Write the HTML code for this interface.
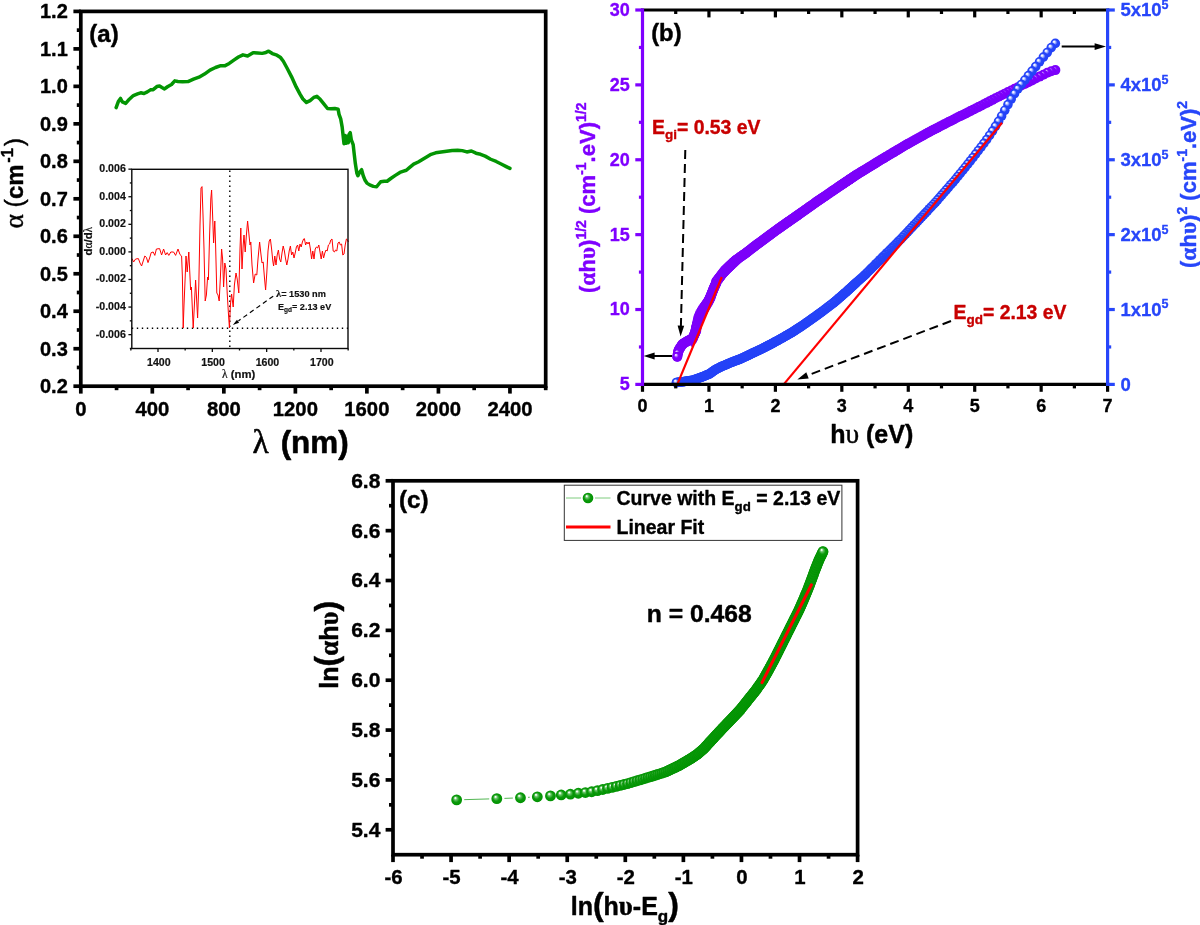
<!DOCTYPE html>
<html lang="en"><head><meta charset="utf-8"><title>Absorption coefficient, Tauc plots and ln-ln fit</title>
<style>html,body{margin:0;padding:0;background:#fff;}svg{display:block;}text{white-space:pre;}</style></head><body>
<svg width="1200" height="925" viewBox="0 0 1200 925">
<rect x="0" y="0" width="1200" height="925" fill="#ffffff"/>
<g id="panel-a">
<polyline points="116.13,107.63 118.33,101.58 120.53,98.47 122.37,101.95 125.67,103.42 129.33,99.2 133.37,95.53 137.58,93.88 140.7,92.78 144,93.52 147.3,91.87 150.42,89.85 153.17,89.67 156.83,86.55 159.58,86 161.97,87.47 164.53,88.93 167.47,86.73 171.5,84.53 174.8,80.87 177.92,81.42 182.5,81.78 188,81.6 193.5,79.22 199,77.2 204.5,74.08 210,70.05 215.5,67.48 220.08,65.83 224.67,65.83 229.25,63.45 233.83,60.15 238.42,57.03 243,54.83 247.58,55.93 253.08,52.63 257.67,53 262.25,53.37 265.92,52.45 268.67,51.17 272.33,53.55 276.92,55.2 280.58,57.58 283.33,61.25 287,68.03 291.58,76.83 296.17,86.92 300,94.17 302.75,98.75 306.42,102.42 310.08,100.58 313.75,97.47 316.87,96.37 320.17,99.3 323.83,103.88 327.5,108.47 331.17,108.83 334.83,108.47 338.13,109.2 339.05,114.33 340.7,118.92 342.17,127.17 343.08,135.42 344,143.67 345.1,135.42 346.2,143.3 347.3,136.33 348.22,142.75 349.13,134.5 350.23,132.67 351.33,140 353.17,144.58 354.08,152.83 355.37,163.83 356.83,173 357.93,175.75 359.77,172.08 361.6,169.7 363.25,175.75 365.08,180.33 366.92,183.08 369.67,184.92 373.33,186.38 376.63,186.75 378.83,184 380.67,181.8 384.33,181.25 387.08,181.25 390.75,178.5 395.33,175.38 399.92,172.45 403.58,171.17 406.33,170.25 410,167.13 413.67,164.2 418.25,162 422.83,159.25 427.42,156.5 431.08,154.3 435.67,152.83 441.17,151.92 446.67,151.18 452.17,150.45 457.67,150.27 462.25,150.63 466.83,151.92 471.42,151 476,153.2 480.58,154.3 485.17,156.13 490.67,159.25 496.17,161.45 501.67,164.2 506.25,166.58 509.92,168.42" fill="none" stroke="#039503" stroke-width="3.5" stroke-linejoin="round" stroke-linecap="round"/>
<line x1="229.8" y1="169.3" x2="229.8" y2="348.5" stroke="#000" stroke-width="1.4" stroke-dasharray="1.4 3.6" stroke-dashoffset="-1.2"/>
<line x1="131.8" y1="328.2" x2="348" y2="328.2" stroke="#000" stroke-width="1.4" stroke-dasharray="1.4 3.6"/>
<polyline points="132,258.6 133.6,262 135.6,259 138.4,258.6 140,263 141.6,266 143.2,261 144.8,256 146.4,257.4 148,262.6 149.6,258 151.2,252.6 153.2,252 154.8,255.4 156.4,249 159.6,248.6 161.6,255 163.6,249 165.6,255 167.2,252.6 168.8,255.4 170.8,252 173.6,252 175.6,255.4 178,249 180,254.6 181.6,256 182.4,277 183.2,328 184,305 185.2,277 186,256 187.2,272 188.8,252 190,277 190.6,290 191.4,287 193.2,328 194.4,305 195.6,280 197.6,318 198.8,285 200,225 201,188 202,186.6 203,215 204,249 205.2,301 206.4,295 207.6,277 208.4,280 209.6,235 210.8,199 211.6,190 212.6,215 213.6,243 214.8,221 215.6,245 216.8,293 218,295 219.2,301 220.4,277 221.6,249 222.6,259 223.6,287 224.8,263 226,269 227.2,293 228.4,313 229.4,328 230.4,305 231.6,294 233.2,307 234.4,285 236,273 237.2,279 238.8,293 240,249 240.8,228 242,269 243.2,245 244,235 245.2,252 246.4,235 247.6,221 248.8,233 250,245 250.8,242 252,265 253.6,283 255.2,274 256.8,275 258,259 259.6,242 260.8,253 262,263 263.2,262 264.4,277 265.6,290 266.8,273 268,251 269.2,241 270.4,239 271.6,249 272.8,261 273.6,266 274.8,256 276,265 277.2,255 278.4,250 279.6,259 280.8,262 282,253 283.2,246 284.4,251 285.6,259 286.8,265 288,259 289.2,251 290.4,246 291.6,255 292.8,252 294,258 295.2,253 296.4,247 297.6,245 298.8,251 300,244 301.2,247 302.4,242 303.6,239 304.4,238.6 305.6,245 306.8,242 308,244 309.2,242 310.4,249 311.6,259 312.8,251 314,259 315.2,249 316.4,247 317.6,248 318.8,245 320,252 321.2,259 322.4,251 323.6,258 324.8,253 326,250 327.2,251 328.4,245 329.6,244 330.8,240 332,239 333.2,251 334.4,252 335.6,250 336.8,251 338,243 339.2,242 340.4,245 341.6,244 342.8,255 344,254 345.2,245 346.4,239 347.6,240 348.4,242" fill="none" stroke="#ff0000" stroke-width="1" stroke-linejoin="round"/>
<rect x="131.8" y="169.3" width="216.2" height="179.2" fill="none" stroke="#0a0a0a" stroke-width="1.4"/>
<line x1="158" y1="348.5" x2="158" y2="351.9" stroke="#0a0a0a" stroke-width="1.3" />
<text x="158.8" y="365.6" font-family='"Liberation Sans", Arial, Helvetica, sans-serif' font-size="10.6" font-weight="bold" fill="#111" text-anchor="middle"  stroke="#111" stroke-width="0.19" stroke-linejoin="round">1400</text>
<line x1="212.33" y1="348.5" x2="212.33" y2="351.9" stroke="#0a0a0a" stroke-width="1.3" />
<text x="213.13" y="365.6" font-family='"Liberation Sans", Arial, Helvetica, sans-serif' font-size="10.6" font-weight="bold" fill="#111" text-anchor="middle"  stroke="#111" stroke-width="0.19" stroke-linejoin="round">1500</text>
<line x1="266.66" y1="348.5" x2="266.66" y2="351.9" stroke="#0a0a0a" stroke-width="1.3" />
<text x="267.46" y="365.6" font-family='"Liberation Sans", Arial, Helvetica, sans-serif' font-size="10.6" font-weight="bold" fill="#111" text-anchor="middle"  stroke="#111" stroke-width="0.19" stroke-linejoin="round">1600</text>
<line x1="320.99" y1="348.5" x2="320.99" y2="351.9" stroke="#0a0a0a" stroke-width="1.3" />
<text x="321.79" y="365.6" font-family='"Liberation Sans", Arial, Helvetica, sans-serif' font-size="10.6" font-weight="bold" fill="#111" text-anchor="middle"  stroke="#111" stroke-width="0.19" stroke-linejoin="round">1700</text>
<line x1="130.84" y1="348.5" x2="130.84" y2="350.5" stroke="#0a0a0a" stroke-width="1.3" />
<line x1="185.16" y1="348.5" x2="185.16" y2="350.5" stroke="#0a0a0a" stroke-width="1.3" />
<line x1="239.5" y1="348.5" x2="239.5" y2="350.5" stroke="#0a0a0a" stroke-width="1.3" />
<line x1="293.82" y1="348.5" x2="293.82" y2="350.5" stroke="#0a0a0a" stroke-width="1.3" />
<line x1="348.15" y1="348.5" x2="348.15" y2="350.5" stroke="#0a0a0a" stroke-width="1.3" />
<line x1="128.4" y1="169.16" x2="131.8" y2="169.16" stroke="#0a0a0a" stroke-width="1.3" />
<text x="125.8" y="172.06" font-family='"Liberation Sans", Arial, Helvetica, sans-serif' font-size="10.6" font-weight="bold" fill="#111" text-anchor="end"  stroke="#111" stroke-width="0.19" stroke-linejoin="round">0.006</text>
<line x1="128.4" y1="196.74" x2="131.8" y2="196.74" stroke="#0a0a0a" stroke-width="1.3" />
<text x="125.8" y="199.64" font-family='"Liberation Sans", Arial, Helvetica, sans-serif' font-size="10.6" font-weight="bold" fill="#111" text-anchor="end"  stroke="#111" stroke-width="0.19" stroke-linejoin="round">0.004</text>
<line x1="128.4" y1="224.32" x2="131.8" y2="224.32" stroke="#0a0a0a" stroke-width="1.3" />
<text x="125.8" y="227.22" font-family='"Liberation Sans", Arial, Helvetica, sans-serif' font-size="10.6" font-weight="bold" fill="#111" text-anchor="end"  stroke="#111" stroke-width="0.19" stroke-linejoin="round">0.002</text>
<line x1="128.4" y1="251.9" x2="131.8" y2="251.9" stroke="#0a0a0a" stroke-width="1.3" />
<text x="125.8" y="254.8" font-family='"Liberation Sans", Arial, Helvetica, sans-serif' font-size="10.6" font-weight="bold" fill="#111" text-anchor="end"  stroke="#111" stroke-width="0.19" stroke-linejoin="round">0.000</text>
<line x1="128.4" y1="279.48" x2="131.8" y2="279.48" stroke="#0a0a0a" stroke-width="1.3" />
<text x="125.8" y="282.38" font-family='"Liberation Sans", Arial, Helvetica, sans-serif' font-size="10.6" font-weight="bold" fill="#111" text-anchor="end"  stroke="#111" stroke-width="0.19" stroke-linejoin="round">-0.002</text>
<line x1="128.4" y1="307.06" x2="131.8" y2="307.06" stroke="#0a0a0a" stroke-width="1.3" />
<text x="125.8" y="309.96" font-family='"Liberation Sans", Arial, Helvetica, sans-serif' font-size="10.6" font-weight="bold" fill="#111" text-anchor="end"  stroke="#111" stroke-width="0.19" stroke-linejoin="round">-0.004</text>
<line x1="128.4" y1="334.64" x2="131.8" y2="334.64" stroke="#0a0a0a" stroke-width="1.3" />
<text x="125.8" y="337.54" font-family='"Liberation Sans", Arial, Helvetica, sans-serif' font-size="10.6" font-weight="bold" fill="#111" text-anchor="end"  stroke="#111" stroke-width="0.19" stroke-linejoin="round">-0.006</text>
<line x1="129.8" y1="182.95" x2="131.8" y2="182.95" stroke="#0a0a0a" stroke-width="1.3" />
<line x1="129.8" y1="210.53" x2="131.8" y2="210.53" stroke="#0a0a0a" stroke-width="1.3" />
<line x1="129.8" y1="238.11" x2="131.8" y2="238.11" stroke="#0a0a0a" stroke-width="1.3" />
<line x1="129.8" y1="265.69" x2="131.8" y2="265.69" stroke="#0a0a0a" stroke-width="1.3" />
<line x1="129.8" y1="293.27" x2="131.8" y2="293.27" stroke="#0a0a0a" stroke-width="1.3" />
<line x1="129.8" y1="320.85" x2="131.8" y2="320.85" stroke="#0a0a0a" stroke-width="1.3" />
<line x1="129.8" y1="348.43" x2="131.8" y2="348.43" stroke="#0a0a0a" stroke-width="1.3" />
<text x="222" y="378.4" font-family='"Liberation Sans", Arial, Helvetica, sans-serif' font-size="11.3" font-weight="bold" fill="#111" stroke="#111" stroke-width="0.2" stroke-linejoin="round"><tspan font-family='"Liberation Serif", "DejaVu Serif", serif' font-weight="normal" font-size="11.5">λ</tspan> (nm)</text>
<text transform="translate(91.6,255.5) rotate(-90)" font-family='"Liberation Sans", Arial, Helvetica, sans-serif' font-size="11.4" font-weight="bold" fill="#111" stroke="#111" stroke-width="0.21" stroke-linejoin="round">d<tspan font-family='"Liberation Serif", "DejaVu Serif", serif' font-weight="normal" font-size="11.5">α</tspan>/d<tspan font-family='"Liberation Serif", "DejaVu Serif", serif' font-weight="normal" font-size="11.5">λ</tspan></text>
<line x1="273.2" y1="296.2" x2="238.4" y2="320.9" stroke="#000" stroke-width="1.2" stroke-dasharray="4.6 3.4"/>
<polygon points="232.8,324.9 237.0,319.7 239.1,322.7" fill="#000"/>
<text x="276" y="297" font-family='"Liberation Sans", Arial, Helvetica, sans-serif' font-size="9.2" font-weight="bold" fill="#111" stroke="#111" stroke-width="0.17" stroke-linejoin="round"><tspan font-family='"Liberation Serif", "DejaVu Serif", serif' font-weight="bold" font-size="10.5">λ</tspan>= 1530 nm</text>
<text x="278" y="310.2" font-family='"Liberation Sans", Arial, Helvetica, sans-serif' font-size="9.1" font-weight="bold" fill="#111" stroke="#111" stroke-width="0.16" stroke-linejoin="round">E<tspan font-size="6.5" dy="2.2">gd</tspan><tspan dy="-2.2">= 2.13 eV</tspan></text>
<rect x="80.8" y="11.4" width="464.9" height="374.8" fill="none" stroke="#000" stroke-width="3.7"/>
<line x1="80.8" y1="386.2" x2="80.8" y2="393.6" stroke="#000" stroke-width="3.7" />
<text x="80.8" y="415.6" font-family='"Liberation Sans", Arial, Helvetica, sans-serif' font-size="20.3" font-weight="bold" fill="#000" text-anchor="middle"  stroke="#000" stroke-width="0.37" stroke-linejoin="round">0</text>
<line x1="152.32" y1="386.2" x2="152.32" y2="393.6" stroke="#000" stroke-width="3.7" />
<text x="152.32" y="415.6" font-family='"Liberation Sans", Arial, Helvetica, sans-serif' font-size="20.3" font-weight="bold" fill="#000" text-anchor="middle"  stroke="#000" stroke-width="0.37" stroke-linejoin="round">400</text>
<line x1="223.85" y1="386.2" x2="223.85" y2="393.6" stroke="#000" stroke-width="3.7" />
<text x="223.85" y="415.6" font-family='"Liberation Sans", Arial, Helvetica, sans-serif' font-size="20.3" font-weight="bold" fill="#000" text-anchor="middle"  stroke="#000" stroke-width="0.37" stroke-linejoin="round">800</text>
<line x1="295.37" y1="386.2" x2="295.37" y2="393.6" stroke="#000" stroke-width="3.7" />
<text x="295.37" y="415.6" font-family='"Liberation Sans", Arial, Helvetica, sans-serif' font-size="20.3" font-weight="bold" fill="#000" text-anchor="middle"  stroke="#000" stroke-width="0.37" stroke-linejoin="round">1200</text>
<line x1="366.89" y1="386.2" x2="366.89" y2="393.6" stroke="#000" stroke-width="3.7" />
<text x="366.89" y="415.6" font-family='"Liberation Sans", Arial, Helvetica, sans-serif' font-size="20.3" font-weight="bold" fill="#000" text-anchor="middle"  stroke="#000" stroke-width="0.37" stroke-linejoin="round">1600</text>
<line x1="438.42" y1="386.2" x2="438.42" y2="393.6" stroke="#000" stroke-width="3.7" />
<text x="438.42" y="415.6" font-family='"Liberation Sans", Arial, Helvetica, sans-serif' font-size="20.3" font-weight="bold" fill="#000" text-anchor="middle"  stroke="#000" stroke-width="0.37" stroke-linejoin="round">2000</text>
<line x1="509.94" y1="386.2" x2="509.94" y2="393.6" stroke="#000" stroke-width="3.7" />
<text x="509.94" y="415.6" font-family='"Liberation Sans", Arial, Helvetica, sans-serif' font-size="20.3" font-weight="bold" fill="#000" text-anchor="middle"  stroke="#000" stroke-width="0.37" stroke-linejoin="round">2400</text>
<line x1="116.56" y1="386.2" x2="116.56" y2="390.2" stroke="#000" stroke-width="3.7" />
<line x1="188.08" y1="386.2" x2="188.08" y2="390.2" stroke="#000" stroke-width="3.7" />
<line x1="259.61" y1="386.2" x2="259.61" y2="390.2" stroke="#000" stroke-width="3.7" />
<line x1="331.13" y1="386.2" x2="331.13" y2="390.2" stroke="#000" stroke-width="3.7" />
<line x1="402.65" y1="386.2" x2="402.65" y2="390.2" stroke="#000" stroke-width="3.7" />
<line x1="474.18" y1="386.2" x2="474.18" y2="390.2" stroke="#000" stroke-width="3.7" />
<line x1="545.7" y1="386.2" x2="545.7" y2="390.2" stroke="#000" stroke-width="3.7" />
<line x1="73.4" y1="386.2" x2="80.8" y2="386.2" stroke="#000" stroke-width="3.7" />
<text x="67.8" y="393.2" font-family='"Liberation Sans", Arial, Helvetica, sans-serif' font-size="20" font-weight="bold" fill="#000" text-anchor="end"  stroke="#000" stroke-width="0.36" stroke-linejoin="round">0.2</text>
<line x1="73.4" y1="348.72" x2="80.8" y2="348.72" stroke="#000" stroke-width="3.7" />
<text x="67.8" y="355.72" font-family='"Liberation Sans", Arial, Helvetica, sans-serif' font-size="20" font-weight="bold" fill="#000" text-anchor="end"  stroke="#000" stroke-width="0.36" stroke-linejoin="round">0.3</text>
<line x1="73.4" y1="311.24" x2="80.8" y2="311.24" stroke="#000" stroke-width="3.7" />
<text x="67.8" y="318.24" font-family='"Liberation Sans", Arial, Helvetica, sans-serif' font-size="20" font-weight="bold" fill="#000" text-anchor="end"  stroke="#000" stroke-width="0.36" stroke-linejoin="round">0.4</text>
<line x1="73.4" y1="273.76" x2="80.8" y2="273.76" stroke="#000" stroke-width="3.7" />
<text x="67.8" y="280.76" font-family='"Liberation Sans", Arial, Helvetica, sans-serif' font-size="20" font-weight="bold" fill="#000" text-anchor="end"  stroke="#000" stroke-width="0.36" stroke-linejoin="round">0.5</text>
<line x1="73.4" y1="236.28" x2="80.8" y2="236.28" stroke="#000" stroke-width="3.7" />
<text x="67.8" y="243.28" font-family='"Liberation Sans", Arial, Helvetica, sans-serif' font-size="20" font-weight="bold" fill="#000" text-anchor="end"  stroke="#000" stroke-width="0.36" stroke-linejoin="round">0.6</text>
<line x1="73.4" y1="198.8" x2="80.8" y2="198.8" stroke="#000" stroke-width="3.7" />
<text x="67.8" y="205.8" font-family='"Liberation Sans", Arial, Helvetica, sans-serif' font-size="20" font-weight="bold" fill="#000" text-anchor="end"  stroke="#000" stroke-width="0.36" stroke-linejoin="round">0.7</text>
<line x1="73.4" y1="161.32" x2="80.8" y2="161.32" stroke="#000" stroke-width="3.7" />
<text x="67.8" y="168.32" font-family='"Liberation Sans", Arial, Helvetica, sans-serif' font-size="20" font-weight="bold" fill="#000" text-anchor="end"  stroke="#000" stroke-width="0.36" stroke-linejoin="round">0.8</text>
<line x1="73.4" y1="123.84" x2="80.8" y2="123.84" stroke="#000" stroke-width="3.7" />
<text x="67.8" y="130.84" font-family='"Liberation Sans", Arial, Helvetica, sans-serif' font-size="20" font-weight="bold" fill="#000" text-anchor="end"  stroke="#000" stroke-width="0.36" stroke-linejoin="round">0.9</text>
<line x1="73.4" y1="86.36" x2="80.8" y2="86.36" stroke="#000" stroke-width="3.7" />
<text x="67.8" y="93.36" font-family='"Liberation Sans", Arial, Helvetica, sans-serif' font-size="20" font-weight="bold" fill="#000" text-anchor="end"  stroke="#000" stroke-width="0.36" stroke-linejoin="round">1.0</text>
<line x1="73.4" y1="48.88" x2="80.8" y2="48.88" stroke="#000" stroke-width="3.7" />
<text x="67.8" y="55.88" font-family='"Liberation Sans", Arial, Helvetica, sans-serif' font-size="20" font-weight="bold" fill="#000" text-anchor="end"  stroke="#000" stroke-width="0.36" stroke-linejoin="round">1.1</text>
<line x1="73.4" y1="11.4" x2="80.8" y2="11.4" stroke="#000" stroke-width="3.7" />
<text x="67.8" y="18.4" font-family='"Liberation Sans", Arial, Helvetica, sans-serif' font-size="20" font-weight="bold" fill="#000" text-anchor="end"  stroke="#000" stroke-width="0.36" stroke-linejoin="round">1.2</text>
<line x1="76.8" y1="367.46" x2="80.8" y2="367.46" stroke="#000" stroke-width="3.7" />
<line x1="76.8" y1="329.98" x2="80.8" y2="329.98" stroke="#000" stroke-width="3.7" />
<line x1="76.8" y1="292.5" x2="80.8" y2="292.5" stroke="#000" stroke-width="3.7" />
<line x1="76.8" y1="255.02" x2="80.8" y2="255.02" stroke="#000" stroke-width="3.7" />
<line x1="76.8" y1="217.54" x2="80.8" y2="217.54" stroke="#000" stroke-width="3.7" />
<line x1="76.8" y1="180.06" x2="80.8" y2="180.06" stroke="#000" stroke-width="3.7" />
<line x1="76.8" y1="142.58" x2="80.8" y2="142.58" stroke="#000" stroke-width="3.7" />
<line x1="76.8" y1="105.1" x2="80.8" y2="105.1" stroke="#000" stroke-width="3.7" />
<line x1="76.8" y1="67.62" x2="80.8" y2="67.62" stroke="#000" stroke-width="3.7" />
<line x1="76.8" y1="30.14" x2="80.8" y2="30.14" stroke="#000" stroke-width="3.7" />
<text x="89.3" y="41.5" font-family='"Liberation Sans", Arial, Helvetica, sans-serif' font-size="24" font-weight="bold" fill="#000" text-anchor="start"  stroke="#000" stroke-width="0.43" stroke-linejoin="round">(a)</text>
<text x="252.5" y="453" font-family='"Liberation Sans", Arial, Helvetica, sans-serif' font-size="31" font-weight="bold" fill="#000" stroke="#000" stroke-width="0.56" stroke-linejoin="round"><tspan font-family='"Liberation Serif", "DejaVu Serif", serif' font-weight="normal" font-size="33.5">λ</tspan><tspan dx="3.2" font-size="31.4"> (nm)</tspan></text>
<text transform="translate(22.8,228.5) rotate(-90)" font-family='"Liberation Sans", Arial, Helvetica, sans-serif' font-size="24" font-weight="bold" fill="#000" stroke="#000" stroke-width="0.43" stroke-linejoin="round"><tspan font-family='"Liberation Serif", "DejaVu Serif", serif' font-weight="normal" font-size="27.5">α</tspan> <tspan font-weight="normal" font-size="25">(</tspan>cm<tspan font-size="16.5" dy="-9.5" dx="1.6">-1</tspan><tspan dy="9.5" dx="1.8" font-weight="normal" font-size="25">)</tspan></text>
</g>
<g id="panel-b">
<defs>
<radialGradient id="gp" cx="0.5" cy="0.5" r="0.5" fx="0.34" fy="0.30"><stop offset="0" stop-color="#f6ecff"/><stop offset="0.14" stop-color="#e2c6ff"/><stop offset="0.3" stop-color="#a550ff"/><stop offset="0.46" stop-color="#7f00ff"/><stop offset="1" stop-color="#7a00f8"/></radialGradient>
<radialGradient id="gb" cx="0.5" cy="0.5" r="0.5" fx="0.34" fy="0.30"><stop offset="0" stop-color="#ffffff"/><stop offset="0.12" stop-color="#f4f6ff"/><stop offset="0.32" stop-color="#98a9ff"/><stop offset="0.55" stop-color="#2746fa"/><stop offset="1" stop-color="#2240f6"/></radialGradient>
</defs>
<polyline points="677.25,356.7 678.6,350.3 682.4,344.2 687.6,341 692.6,338.6 695.4,332.3 696.4,326.9 698,321.5 699.7,316 702.4,310.6 705.6,305.2 709.2,299.8 711.4,294.4 713.5,289 715.9,283.6 716.4,281.3 725.3,269.9 735.4,260.4 745.5,253.34 755.6,245.51 765.8,237.99 775.9,230.55 786,223.36 796.1,216.29 806.2,209.23 816.4,201.95 826.5,195.13 836.6,188.19 850,179.19 855.3,175.55" fill="none" stroke="#7f00ff" stroke-width="10" stroke-linejoin="round" stroke-linecap="round"/>
<polygon points="690.27,332.27 691.89,326.86 692.97,321.46 694.05,316.05 696.22,310.65 699.46,305.24 703.78,299.84 706.49,294.43 708.65,289.03 710.81,283.62 714.05,278.22 717.84,272.81 722.7,267.41 729.19,262 741.3,262 735.68,267.41 730.05,272.81 724.86,278.22 721.08,283.62 718.38,289.03 716.22,294.43 714.59,299.84 711.89,305.24 708.65,310.65 705.41,316.05 703.24,321.46 701.08,326.86 700.54,332.27 697.84,337.68 695.68,343.08 691.35,346.32 688.32,339.84" fill="#7f00ff" stroke="#7f00ff" stroke-width="1" stroke-linejoin="round"/>
<g fill="url(#gp)">
<circle cx="1055.35" cy="70.12" r="5.0"/>
<circle cx="1051.27" cy="71.31" r="5.0"/>
<circle cx="1047.27" cy="72.67" r="5.0"/>
<circle cx="1043.35" cy="74.67" r="5.0"/>
<circle cx="1039.5" cy="76.62" r="5.0"/>
<circle cx="1035.73" cy="78.54" r="5.0"/>
<circle cx="1032.03" cy="80.4" r="5.0"/>
<circle cx="1028.4" cy="82.16" r="5.0"/>
<circle cx="1024.83" cy="83.88" r="5.0"/>
<circle cx="1021.33" cy="85.57" r="5.0"/>
<circle cx="1017.9" cy="87.23" r="5.0"/>
<circle cx="1014.52" cy="88.87" r="5.0"/>
<circle cx="1011.21" cy="90.47" r="5.0"/>
<circle cx="1007.95" cy="92.06" r="5.0"/>
<circle cx="1004.76" cy="93.63" r="5.0"/>
<circle cx="1001.61" cy="95.17" r="5.0"/>
<circle cx="998.53" cy="96.73" r="5.0"/>
<circle cx="995.49" cy="98.3" r="5.0"/>
<circle cx="992.51" cy="99.84" r="5.0"/>
<circle cx="989.57" cy="101.35" r="5.0"/>
<circle cx="986.69" cy="102.84" r="5.0"/>
<circle cx="983.85" cy="104.3" r="5.0"/>
<circle cx="981.06" cy="105.74" r="5.0"/>
<circle cx="978.32" cy="107.12" r="5.0"/>
<circle cx="975.61" cy="108.47" r="5.0"/>
<circle cx="972.96" cy="109.79" r="5.0"/>
<circle cx="970.34" cy="111.1" r="5.0"/>
<circle cx="967.77" cy="112.38" r="5.0"/>
<circle cx="965.23" cy="113.64" r="5.0"/>
<circle cx="962.74" cy="114.89" r="5.0"/>
<circle cx="960.28" cy="116.11" r="5.0"/>
<circle cx="957.86" cy="117.32" r="5.0"/>
<circle cx="955.48" cy="118.52" r="5.0"/>
<circle cx="953.13" cy="119.71" r="5.0"/>
<circle cx="950.82" cy="120.9" r="5.0"/>
<circle cx="948.54" cy="122.06" r="5.0"/>
<circle cx="946.3" cy="123.21" r="5.0"/>
<circle cx="944.09" cy="124.34" r="5.0"/>
<circle cx="941.91" cy="125.45" r="5.0"/>
<circle cx="939.76" cy="126.55" r="5.0"/>
<circle cx="937.65" cy="127.63" r="5.0"/>
<circle cx="935.56" cy="128.7" r="5.0"/>
<circle cx="933.5" cy="129.75" r="5.0"/>
<circle cx="931.47" cy="130.78" r="5.0"/>
<circle cx="929.47" cy="131.89" r="5.0"/>
<circle cx="927.5" cy="132.99" r="5.0"/>
<circle cx="925.55" cy="134.08" r="5.0"/>
<circle cx="923.64" cy="135.15" r="5.0"/>
<circle cx="921.74" cy="136.21" r="5.0"/>
<circle cx="919.87" cy="137.25" r="5.0"/>
<circle cx="918.03" cy="138.27" r="5.0"/>
<circle cx="916.21" cy="139.27" r="5.0"/>
<circle cx="914.42" cy="140.26" r="5.0"/>
<circle cx="912.65" cy="141.24" r="5.0"/>
<circle cx="910.9" cy="142.21" r="5.0"/>
<circle cx="909.17" cy="143.16" r="5.0"/>
<circle cx="907.47" cy="144.1" r="5.0"/>
<circle cx="905.79" cy="145.04" r="5.0"/>
<circle cx="904.13" cy="146.03" r="5.0"/>
<circle cx="902.49" cy="147.01" r="5.0"/>
<circle cx="900.87" cy="147.97" r="5.0"/>
<circle cx="899.27" cy="148.93" r="5.0"/>
<circle cx="897.69" cy="149.87" r="5.0"/>
<circle cx="896.13" cy="150.8" r="5.0"/>
<circle cx="894.59" cy="151.72" r="5.0"/>
<circle cx="893.06" cy="152.62" r="5.0"/>
<circle cx="891.56" cy="153.52" r="5.0"/>
<circle cx="890.07" cy="154.41" r="5.0"/>
<circle cx="888.61" cy="155.28" r="5.0"/>
<circle cx="887.15" cy="156.15" r="5.0"/>
<circle cx="885.72" cy="157" r="5.0"/>
<circle cx="884.3" cy="157.85" r="5.0"/>
<circle cx="882.9" cy="158.68" r="5.0"/>
<circle cx="881.52" cy="159.51" r="5.0"/>
<circle cx="880.15" cy="160.33" r="5.0"/>
<circle cx="878.8" cy="161.16" r="5.0"/>
<circle cx="877.46" cy="161.98" r="5.0"/>
<circle cx="876.14" cy="162.79" r="5.0"/>
<circle cx="874.83" cy="163.59" r="5.0"/>
<circle cx="873.54" cy="164.38" r="5.0"/>
<circle cx="872.26" cy="165.17" r="5.0"/>
<circle cx="870.99" cy="165.94" r="5.0"/>
<circle cx="869.74" cy="166.71" r="5.0"/>
<circle cx="868.51" cy="167.46" r="5.0"/>
<circle cx="867.28" cy="168.21" r="5.0"/>
<circle cx="866.07" cy="168.96" r="5.0"/>
<circle cx="864.88" cy="169.69" r="5.0"/>
<circle cx="863.69" cy="170.41" r="5.0"/>
<circle cx="862.52" cy="171.13" r="5.0"/>
<circle cx="861.36" cy="171.84" r="5.0"/>
<circle cx="860.21" cy="172.54" r="5.0"/>
<circle cx="859.08" cy="173.24" r="5.0"/>
<circle cx="857.96" cy="173.93" r="5.0"/>
<circle cx="856.84" cy="174.61" r="5.0"/>
<circle cx="855.74" cy="175.28" r="5.0"/>
<circle cx="854.65" cy="176" r="5.0"/>
<circle cx="853.58" cy="176.74" r="5.0"/>
<circle cx="852.51" cy="177.47" r="5.0"/>
<circle cx="851.45" cy="178.19" r="5.0"/>
<circle cx="850.41" cy="178.91" r="5.0"/>
<circle cx="849.37" cy="179.61" r="5.0"/>
<circle cx="848.35" cy="180.3" r="5.0"/>
<circle cx="847.33" cy="180.98" r="5.0"/>
<circle cx="846.33" cy="181.66" r="5.0"/>
<circle cx="845.33" cy="182.33" r="5.0"/>
<circle cx="844.35" cy="182.99" r="5.0"/>
<circle cx="843.37" cy="183.64" r="5.0"/>
<circle cx="842.41" cy="184.29" r="5.0"/>
<circle cx="841.45" cy="184.93" r="5.0"/>
<circle cx="840.5" cy="185.57" r="5.0"/>
<circle cx="839.56" cy="186.2" r="5.0"/>
<circle cx="838.63" cy="186.83" r="5.0"/>
<circle cx="837.71" cy="187.44" r="5.0"/>
<circle cx="835.9" cy="188.67" r="5.0"/>
<circle cx="834.12" cy="189.9" r="5.0"/>
<circle cx="832.37" cy="191.1" r="5.0"/>
<circle cx="830.65" cy="192.28" r="5.0"/>
<circle cx="828.96" cy="193.44" r="5.0"/>
<circle cx="827.3" cy="194.58" r="5.0"/>
<circle cx="825.68" cy="195.69" r="5.0"/>
<circle cx="824.08" cy="196.77" r="5.0"/>
<circle cx="822.51" cy="197.83" r="5.0"/>
<circle cx="820.96" cy="198.87" r="5.0"/>
<circle cx="819.45" cy="199.9" r="5.0"/>
<circle cx="817.95" cy="200.9" r="5.0"/>
<circle cx="816.49" cy="201.89" r="5.0"/>
<circle cx="815.04" cy="202.92" r="5.0"/>
<circle cx="813.63" cy="203.93" r="5.0"/>
<circle cx="812.23" cy="204.93" r="5.0"/>
<circle cx="810.86" cy="205.9" r="5.0"/>
<circle cx="809.51" cy="206.87" r="5.0"/>
<circle cx="808.18" cy="207.82" r="5.0"/>
<circle cx="806.87" cy="208.75" r="5.0"/>
<circle cx="805.58" cy="209.66" r="5.0"/>
<circle cx="804.32" cy="210.54" r="5.0"/>
<circle cx="803.07" cy="211.42" r="5.0"/>
<circle cx="801.84" cy="212.28" r="5.0"/>
<circle cx="800.63" cy="213.12" r="5.0"/>
<circle cx="799.44" cy="213.96" r="5.0"/>
<circle cx="798.27" cy="214.78" r="5.0"/>
<circle cx="797.11" cy="215.59" r="5.0"/>
<circle cx="795.97" cy="216.38" r="5.0"/>
<circle cx="794.85" cy="217.17" r="5.0"/>
<circle cx="793.75" cy="217.94" r="5.0"/>
<circle cx="792.66" cy="218.7" r="5.0"/>
<circle cx="791.58" cy="219.45" r="5.0"/>
<circle cx="790.52" cy="220.2" r="5.0"/>
<circle cx="789.48" cy="220.93" r="5.0"/>
<circle cx="788.45" cy="221.64" r="5.0"/>
<circle cx="787.44" cy="222.35" r="5.0"/>
<circle cx="786.44" cy="223.05" r="5.0"/>
<circle cx="785.45" cy="223.75" r="5.0"/>
<circle cx="784.48" cy="224.44" r="5.0"/>
<circle cx="783.52" cy="225.13" r="5.0"/>
<circle cx="782.57" cy="225.8" r="5.0"/>
<circle cx="781.64" cy="226.46" r="5.0"/>
<circle cx="780.72" cy="227.12" r="5.0"/>
<circle cx="779.81" cy="227.77" r="5.0"/>
<circle cx="778.91" cy="228.41" r="5.0"/>
<circle cx="777.58" cy="229.35" r="5.0"/>
<circle cx="776.29" cy="230.27" r="5.0"/>
<circle cx="775.01" cy="231.2" r="5.0"/>
<circle cx="773.76" cy="232.12" r="5.0"/>
<circle cx="772.54" cy="233.02" r="5.0"/>
<circle cx="771.33" cy="233.91" r="5.0"/>
<circle cx="770.15" cy="234.78" r="5.0"/>
<circle cx="768.99" cy="235.64" r="5.0"/>
<circle cx="767.85" cy="236.48" r="5.0"/>
<circle cx="766.74" cy="237.3" r="5.0"/>
<circle cx="765.64" cy="238.11" r="5.0"/>
<circle cx="764.56" cy="238.9" r="5.0"/>
<circle cx="763.5" cy="239.69" r="5.0"/>
<circle cx="762.46" cy="240.45" r="5.0"/>
<circle cx="761.44" cy="241.21" r="5.0"/>
<circle cx="760.43" cy="241.95" r="5.0"/>
<circle cx="759.44" cy="242.68" r="5.0"/>
<circle cx="758.47" cy="243.39" r="5.0"/>
<circle cx="757.51" cy="244.1" r="5.0"/>
<circle cx="756.57" cy="244.79" r="5.0"/>
<circle cx="755.65" cy="245.47" r="5.0"/>
<circle cx="754.74" cy="246.18" r="5.0"/>
<circle cx="753.84" cy="246.87" r="5.0"/>
<circle cx="752.96" cy="247.55" r="5.0"/>
<circle cx="751.81" cy="248.45" r="5.0"/>
<circle cx="750.68" cy="249.32" r="5.0"/>
<circle cx="749.57" cy="250.18" r="5.0"/>
<circle cx="748.49" cy="251.02" r="5.0"/>
<circle cx="747.43" cy="251.84" r="5.0"/>
<circle cx="746.39" cy="252.65" r="5.0"/>
<circle cx="745.37" cy="253.43" r="5.0"/>
<circle cx="744.37" cy="254.13" r="5.0"/>
<circle cx="743.39" cy="254.81" r="5.0"/>
<circle cx="742.43" cy="255.49" r="5.0"/>
<circle cx="741.48" cy="256.15" r="5.0"/>
<circle cx="740.56" cy="256.79" r="5.0"/>
<circle cx="739.65" cy="257.43" r="5.0"/>
<circle cx="738.54" cy="258.21" r="5.0"/>
<circle cx="737.45" cy="258.97" r="5.0"/>
<circle cx="736.39" cy="259.71" r="5.0"/>
<circle cx="735.35" cy="260.44" r="5.0"/>
<circle cx="734.54" cy="261.21" r="5.0"/>
<circle cx="733.54" cy="262.15" r="5.0"/>
<circle cx="732.57" cy="263.07" r="5.0"/>
<circle cx="731.61" cy="263.96" r="5.0"/>
<circle cx="730.68" cy="264.84" r="5.0"/>
<circle cx="729.76" cy="265.7" r="5.0"/>
<circle cx="728.87" cy="266.55" r="5.0"/>
<circle cx="727.99" cy="267.37" r="5.0"/>
<circle cx="727.13" cy="268.18" r="5.0"/>
<circle cx="726.29" cy="268.97" r="5.0"/>
<circle cx="725.46" cy="269.75" r="5.0"/>
<circle cx="724.65" cy="270.73" r="5.0"/>
<circle cx="723.86" cy="271.75" r="5.0"/>
<circle cx="723.08" cy="272.74" r="5.0"/>
<circle cx="722.32" cy="273.72" r="5.0"/>
<circle cx="721.57" cy="274.68" r="5.0"/>
<circle cx="720.83" cy="275.62" r="5.0"/>
<circle cx="720.11" cy="276.54" r="5.0"/>
<circle cx="719.4" cy="277.45" r="5.0"/>
<circle cx="718.71" cy="278.34" r="5.0"/>
<circle cx="718.03" cy="279.21" r="5.0"/>
<circle cx="717.23" cy="280.24" r="5.0"/>
<circle cx="716.44" cy="281.25" r="5.0"/>
<circle cx="716.05" cy="282.89" r="5.0"/>
<circle cx="715.67" cy="284.11" r="5.0"/>
<circle cx="715.17" cy="285.25" r="5.0"/>
<circle cx="714.67" cy="286.37" r="5.0"/>
<circle cx="714.18" cy="287.47" r="5.0"/>
<circle cx="713.7" cy="288.55" r="5.0"/>
<circle cx="713.22" cy="289.72" r="5.0"/>
<circle cx="712.75" cy="290.93" r="5.0"/>
<circle cx="712.29" cy="292.12" r="5.0"/>
<circle cx="711.83" cy="293.3" r="5.0"/>
<circle cx="711.38" cy="294.45" r="5.0"/>
<circle cx="710.93" cy="295.55" r="5.0"/>
<circle cx="710.49" cy="296.63" r="5.0"/>
<circle cx="710.06" cy="297.69" r="5.0"/>
<circle cx="709.63" cy="298.75" r="5.0"/>
<circle cx="709.21" cy="299.79" r="5.0"/>
<circle cx="708.58" cy="300.73" r="5.0"/>
<circle cx="707.97" cy="301.65" r="5.0"/>
<circle cx="707.27" cy="302.7" r="5.0"/>
<circle cx="706.58" cy="303.73" r="5.0"/>
<circle cx="705.91" cy="304.73" r="5.0"/>
<circle cx="705.25" cy="305.78" r="5.0"/>
<circle cx="704.61" cy="306.87" r="5.0"/>
<circle cx="703.98" cy="307.93" r="5.0"/>
<circle cx="703.36" cy="308.97" r="5.0"/>
<circle cx="702.76" cy="310" r="5.0"/>
<circle cx="702.17" cy="311.07" r="5.0"/>
<circle cx="701.67" cy="312.07" r="5.0"/>
<circle cx="701.1" cy="313.21" r="5.0"/>
<circle cx="700.54" cy="314.33" r="5.0"/>
<circle cx="699.99" cy="315.43" r="5.0"/>
<circle cx="699.52" cy="316.57" r="5.0"/>
<circle cx="699.14" cy="317.8" r="5.0"/>
<circle cx="698.77" cy="319.01" r="5.0"/>
<circle cx="698.4" cy="320.21" r="5.0"/>
<circle cx="698.03" cy="321.39" r="5.0"/>
<circle cx="697.67" cy="322.6" r="5.0"/>
<circle cx="697.32" cy="323.8" r="5.0"/>
<circle cx="696.97" cy="324.98" r="5.0"/>
<circle cx="696.62" cy="326.15" r="5.0"/>
<circle cx="696.28" cy="327.54" r="5.0"/>
<circle cx="696.08" cy="328.64" r="5.0"/>
<circle cx="695.88" cy="329.72" r="5.0"/>
<circle cx="695.61" cy="331.16" r="5.0"/>
<circle cx="695.35" cy="332.42" r="5.0"/>
<circle cx="694.89" cy="333.44" r="5.0"/>
<circle cx="694.38" cy="334.59" r="5.0"/>
<circle cx="693.88" cy="335.71" r="5.0"/>
<circle cx="693.39" cy="336.81" r="5.0"/>
<circle cx="692.91" cy="337.9" r="5.0"/>
<circle cx="692.21" cy="338.79" r="5.0"/>
<circle cx="691.19" cy="339.28" r="5.0"/>
<circle cx="690.16" cy="339.77" r="5.0"/>
<circle cx="689.12" cy="340.27" r="5.0"/>
<circle cx="688.13" cy="340.75" r="5.0"/>
<circle cx="687.13" cy="341.29" r="5.0"/>
<circle cx="686.18" cy="341.88" r="5.0"/>
<circle cx="685.22" cy="342.46" r="5.0"/>
<circle cx="684.27" cy="343.05" r="5.0"/>
<circle cx="683.32" cy="343.64" r="5.0"/>
<circle cx="682.37" cy="344.24" r="5.0"/>
<circle cx="681.76" cy="345.23" r="5.0"/>
<circle cx="681.16" cy="346.19" r="5.0"/>
<circle cx="680.55" cy="347.18" r="5.0"/>
<circle cx="679.95" cy="348.13" r="5.0"/>
<circle cx="679.35" cy="349.1" r="5.0"/>
<circle cx="678.76" cy="350.04" r="5.0"/>
<circle cx="678.43" cy="351.11" r="5.0"/>
<circle cx="678.19" cy="352.23" r="5.0"/>
<circle cx="677.96" cy="353.34" r="5.0"/>
<circle cx="677.25" cy="356.7" r="5.0"/>
</g>
<polyline points="676.5,382.5 684,381.6 692.8,380.3 701.7,377.1 709.3,374 715.6,369.5 721.9,366.4 730.8,362.6 740.9,358.79 751,353.92 761.1,349.22 771.2,344 781.4,338.41 791.5,332.63 801.6,326.13 815,316.71 823.7,310.35 834.5,302.07 845.3,292.74 856.1,282.85" fill="none" stroke="#2746fa" stroke-width="9.6" stroke-linejoin="round" stroke-linecap="round"/>
<g fill="url(#gb)">
<circle cx="1055.35" cy="43.4" r="4.8"/>
<circle cx="1051.27" cy="47.61" r="4.8"/>
<circle cx="1047.27" cy="52.49" r="4.8"/>
<circle cx="1043.35" cy="57.15" r="4.8"/>
<circle cx="1039.5" cy="61.82" r="4.8"/>
<circle cx="1035.73" cy="66.5" r="4.8"/>
<circle cx="1032.03" cy="71.17" r="4.8"/>
<circle cx="1028.4" cy="75.62" r="4.8"/>
<circle cx="1024.83" cy="80.04" r="4.8"/>
<circle cx="1021.33" cy="84.47" r="4.8"/>
<circle cx="1017.9" cy="88.86" r="4.8"/>
<circle cx="1014.52" cy="93.71" r="4.8"/>
<circle cx="1011.21" cy="99.05" r="4.8"/>
<circle cx="1007.95" cy="104.6" r="4.8"/>
<circle cx="1004.76" cy="110.27" r="4.8"/>
<circle cx="1001.61" cy="116.06" r="4.8"/>
<circle cx="998.53" cy="121.38" r="4.8"/>
<circle cx="995.49" cy="126.34" r="4.8"/>
<circle cx="992.51" cy="131.03" r="4.8"/>
<circle cx="989.57" cy="135.44" r="4.8"/>
<circle cx="986.69" cy="139.59" r="4.8"/>
<circle cx="983.85" cy="143.41" r="4.8"/>
<circle cx="981.06" cy="147.08" r="4.8"/>
<circle cx="978.32" cy="150.6" r="4.8"/>
<circle cx="975.61" cy="154.17" r="4.8"/>
<circle cx="972.96" cy="157.63" r="4.8"/>
<circle cx="970.34" cy="160.92" r="4.8"/>
<circle cx="967.77" cy="164.17" r="4.8"/>
<circle cx="965.23" cy="167.37" r="4.8"/>
<circle cx="962.74" cy="170.47" r="4.8"/>
<circle cx="960.28" cy="173.47" r="4.8"/>
<circle cx="957.86" cy="176.44" r="4.8"/>
<circle cx="955.48" cy="179.35" r="4.8"/>
<circle cx="953.13" cy="182.07" r="4.8"/>
<circle cx="950.82" cy="184.72" r="4.8"/>
<circle cx="948.54" cy="187.33" r="4.8"/>
<circle cx="946.3" cy="189.91" r="4.8"/>
<circle cx="944.09" cy="192.45" r="4.8"/>
<circle cx="941.91" cy="194.95" r="4.8"/>
<circle cx="939.76" cy="197.41" r="4.8"/>
<circle cx="937.65" cy="199.84" r="4.8"/>
<circle cx="935.56" cy="202.24" r="4.8"/>
<circle cx="933.5" cy="204.42" r="4.8"/>
<circle cx="931.47" cy="206.58" r="4.8"/>
<circle cx="929.47" cy="208.71" r="4.8"/>
<circle cx="927.5" cy="210.81" r="4.8"/>
<circle cx="925.55" cy="212.88" r="4.8"/>
<circle cx="923.64" cy="214.92" r="4.8"/>
<circle cx="921.74" cy="216.94" r="4.8"/>
<circle cx="919.87" cy="218.92" r="4.8"/>
<circle cx="918.03" cy="220.88" r="4.8"/>
<circle cx="916.21" cy="222.81" r="4.8"/>
<circle cx="914.42" cy="224.7" r="4.8"/>
<circle cx="912.65" cy="226.58" r="4.8"/>
<circle cx="910.9" cy="228.42" r="4.8"/>
<circle cx="909.17" cy="230.25" r="4.8"/>
<circle cx="907.47" cy="232.05" r="4.8"/>
<circle cx="905.79" cy="233.82" r="4.8"/>
<circle cx="904.13" cy="235.58" r="4.8"/>
<circle cx="902.49" cy="237.31" r="4.8"/>
<circle cx="900.87" cy="239.02" r="4.8"/>
<circle cx="899.27" cy="240.67" r="4.8"/>
<circle cx="897.69" cy="242.25" r="4.8"/>
<circle cx="896.13" cy="243.81" r="4.8"/>
<circle cx="894.59" cy="245.34" r="4.8"/>
<circle cx="893.06" cy="246.86" r="4.8"/>
<circle cx="891.56" cy="248.36" r="4.8"/>
<circle cx="890.07" cy="249.85" r="4.8"/>
<circle cx="888.61" cy="251.31" r="4.8"/>
<circle cx="887.15" cy="252.76" r="4.8"/>
<circle cx="885.72" cy="254.19" r="4.8"/>
<circle cx="884.3" cy="255.6" r="4.8"/>
<circle cx="882.9" cy="257" r="4.8"/>
<circle cx="881.52" cy="258.38" r="4.8"/>
<circle cx="880.15" cy="259.75" r="4.8"/>
<circle cx="878.8" cy="261.1" r="4.8"/>
<circle cx="877.46" cy="262.43" r="4.8"/>
<circle cx="876.14" cy="263.75" r="4.8"/>
<circle cx="874.83" cy="265.06" r="4.8"/>
<circle cx="873.54" cy="266.35" r="4.8"/>
<circle cx="872.26" cy="267.62" r="4.8"/>
<circle cx="870.99" cy="268.88" r="4.8"/>
<circle cx="869.74" cy="270.13" r="4.8"/>
<circle cx="868.51" cy="271.37" r="4.8"/>
<circle cx="867.28" cy="272.59" r="4.8"/>
<circle cx="866.07" cy="273.79" r="4.8"/>
<circle cx="864.88" cy="274.99" r="4.8"/>
<circle cx="863.69" cy="276.11" r="4.8"/>
<circle cx="862.52" cy="277.15" r="4.8"/>
<circle cx="861.36" cy="278.18" r="4.8"/>
<circle cx="860.21" cy="279.2" r="4.8"/>
<circle cx="859.08" cy="280.21" r="4.8"/>
<circle cx="857.96" cy="281.2" r="4.8"/>
<circle cx="856.84" cy="282.19" r="4.8"/>
<circle cx="855.74" cy="283.18" r="4.8"/>
<circle cx="854.65" cy="284.18" r="4.8"/>
<circle cx="853.58" cy="285.16" r="4.8"/>
<circle cx="852.51" cy="286.14" r="4.8"/>
<circle cx="851.45" cy="287.11" r="4.8"/>
<circle cx="850.41" cy="288.07" r="4.8"/>
<circle cx="849.37" cy="289.01" r="4.8"/>
<circle cx="848.35" cy="289.95" r="4.8"/>
<circle cx="847.33" cy="290.88" r="4.8"/>
<circle cx="846.33" cy="291.8" r="4.8"/>
<circle cx="845.33" cy="292.71" r="4.8"/>
<circle cx="844.35" cy="293.57" r="4.8"/>
<circle cx="843.37" cy="294.41" r="4.8"/>
<circle cx="842.41" cy="295.24" r="4.8"/>
<circle cx="841.45" cy="296.07" r="4.8"/>
<circle cx="840.5" cy="296.89" r="4.8"/>
<circle cx="839.56" cy="297.7" r="4.8"/>
<circle cx="838.63" cy="298.5" r="4.8"/>
<circle cx="837.71" cy="299.29" r="4.8"/>
<circle cx="836.8" cy="300.08" r="4.8"/>
<circle cx="835.9" cy="300.86" r="4.8"/>
<circle cx="835" cy="301.63" r="4.8"/>
<circle cx="834.12" cy="302.36" r="4.8"/>
<circle cx="833.24" cy="303.04" r="4.8"/>
<circle cx="831.5" cy="304.36" r="4.8"/>
<circle cx="829.8" cy="305.67" r="4.8"/>
<circle cx="828.13" cy="306.95" r="4.8"/>
<circle cx="826.49" cy="308.21" r="4.8"/>
<circle cx="824.87" cy="309.45" r="4.8"/>
<circle cx="823.29" cy="310.65" r="4.8"/>
<circle cx="821.73" cy="311.79" r="4.8"/>
<circle cx="820.2" cy="312.9" r="4.8"/>
<circle cx="818.7" cy="314" r="4.8"/>
<circle cx="817.22" cy="315.08" r="4.8"/>
<circle cx="815.76" cy="316.15" r="4.8"/>
<circle cx="814.33" cy="317.18" r="4.8"/>
<circle cx="812.92" cy="318.16" r="4.8"/>
<circle cx="811.54" cy="319.14" r="4.8"/>
<circle cx="810.18" cy="320.1" r="4.8"/>
<circle cx="808.84" cy="321.04" r="4.8"/>
<circle cx="807.52" cy="321.96" r="4.8"/>
<circle cx="806.22" cy="322.88" r="4.8"/>
<circle cx="804.95" cy="323.78" r="4.8"/>
<circle cx="803.69" cy="324.66" r="4.8"/>
<circle cx="802.45" cy="325.53" r="4.8"/>
<circle cx="801.23" cy="326.37" r="4.8"/>
<circle cx="800.03" cy="327.14" r="4.8"/>
<circle cx="798.85" cy="327.9" r="4.8"/>
<circle cx="797.69" cy="328.65" r="4.8"/>
<circle cx="796.54" cy="329.39" r="4.8"/>
<circle cx="795.41" cy="330.12" r="4.8"/>
<circle cx="794.3" cy="330.83" r="4.8"/>
<circle cx="793.2" cy="331.54" r="4.8"/>
<circle cx="792.12" cy="332.24" r="4.8"/>
<circle cx="791.05" cy="332.89" r="4.8"/>
<circle cx="790" cy="333.49" r="4.8"/>
<circle cx="788.96" cy="334.08" r="4.8"/>
<circle cx="787.94" cy="334.67" r="4.8"/>
<circle cx="786.94" cy="335.24" r="4.8"/>
<circle cx="785.94" cy="335.81" r="4.8"/>
<circle cx="784.96" cy="336.37" r="4.8"/>
<circle cx="784" cy="336.93" r="4.8"/>
<circle cx="782.57" cy="337.74" r="4.8"/>
<circle cx="781.17" cy="338.54" r="4.8"/>
<circle cx="779.81" cy="339.29" r="4.8"/>
<circle cx="778.46" cy="340.02" r="4.8"/>
<circle cx="777.15" cy="340.74" r="4.8"/>
<circle cx="775.86" cy="341.45" r="4.8"/>
<circle cx="774.59" cy="342.14" r="4.8"/>
<circle cx="773.35" cy="342.82" r="4.8"/>
<circle cx="772.13" cy="343.49" r="4.8"/>
<circle cx="770.94" cy="344.14" r="4.8"/>
<circle cx="769.76" cy="344.74" r="4.8"/>
<circle cx="768.61" cy="345.34" r="4.8"/>
<circle cx="767.48" cy="345.92" r="4.8"/>
<circle cx="766.37" cy="346.5" r="4.8"/>
<circle cx="765.28" cy="347.06" r="4.8"/>
<circle cx="764.21" cy="347.61" r="4.8"/>
<circle cx="763.15" cy="348.16" r="4.8"/>
<circle cx="762.12" cy="348.69" r="4.8"/>
<circle cx="761.1" cy="349.22" r="4.8"/>
<circle cx="760.1" cy="349.68" r="4.8"/>
<circle cx="758.79" cy="350.29" r="4.8"/>
<circle cx="757.51" cy="350.89" r="4.8"/>
<circle cx="756.26" cy="351.47" r="4.8"/>
<circle cx="755.04" cy="352.04" r="4.8"/>
<circle cx="753.84" cy="352.59" r="4.8"/>
<circle cx="752.67" cy="353.14" r="4.8"/>
<circle cx="751.52" cy="353.67" r="4.8"/>
<circle cx="750.4" cy="354.21" r="4.8"/>
<circle cx="749.3" cy="354.74" r="4.8"/>
<circle cx="748.22" cy="355.26" r="4.8"/>
<circle cx="747.16" cy="355.77" r="4.8"/>
<circle cx="746.13" cy="356.26" r="4.8"/>
<circle cx="745.11" cy="356.75" r="4.8"/>
<circle cx="744.12" cy="357.23" r="4.8"/>
<circle cx="742.9" cy="357.82" r="4.8"/>
<circle cx="741.72" cy="358.39" r="4.8"/>
<circle cx="740.56" cy="358.91" r="4.8"/>
<circle cx="739.42" cy="359.34" r="4.8"/>
<circle cx="738.32" cy="359.76" r="4.8"/>
<circle cx="737.24" cy="360.17" r="4.8"/>
<circle cx="736.18" cy="360.57" r="4.8"/>
<circle cx="735.15" cy="360.96" r="4.8"/>
<circle cx="733.94" cy="361.41" r="4.8"/>
<circle cx="732.76" cy="361.86" r="4.8"/>
<circle cx="731.61" cy="362.29" r="4.8"/>
<circle cx="730.49" cy="362.73" r="4.8"/>
<circle cx="729.4" cy="363.2" r="4.8"/>
<circle cx="728.34" cy="363.65" r="4.8"/>
<circle cx="727.3" cy="364.09" r="4.8"/>
<circle cx="726.29" cy="364.53" r="4.8"/>
<circle cx="725.14" cy="365.02" r="4.8"/>
<circle cx="724.02" cy="365.5" r="4.8"/>
<circle cx="722.93" cy="365.96" r="4.8"/>
<circle cx="721.87" cy="366.42" r="4.8"/>
<circle cx="720.83" cy="366.92" r="4.8"/>
<circle cx="719.83" cy="367.42" r="4.8"/>
<circle cx="718.71" cy="367.97" r="4.8"/>
<circle cx="717.62" cy="368.5" r="4.8"/>
<circle cx="716.57" cy="369.02" r="4.8"/>
<circle cx="715.54" cy="369.54" r="4.8"/>
<circle cx="714.55" cy="370.25" r="4.8"/>
<circle cx="713.58" cy="370.94" r="4.8"/>
<circle cx="712.63" cy="371.62" r="4.8"/>
<circle cx="711.72" cy="372.27" r="4.8"/>
<circle cx="710.71" cy="372.99" r="4.8"/>
<circle cx="709.74" cy="373.69" r="4.8"/>
<circle cx="708.68" cy="374.25" r="4.8"/>
<circle cx="707.57" cy="374.71" r="4.8"/>
<circle cx="706.49" cy="375.15" r="4.8"/>
<circle cx="705.44" cy="375.57" r="4.8"/>
<circle cx="704.34" cy="376.02" r="4.8"/>
<circle cx="703.28" cy="376.46" r="4.8"/>
<circle cx="702.25" cy="376.88" r="4.8"/>
<circle cx="701.18" cy="377.29" r="4.8"/>
<circle cx="700.06" cy="377.69" r="4.8"/>
<circle cx="698.99" cy="378.07" r="4.8"/>
<circle cx="697.89" cy="378.47" r="4.8"/>
<circle cx="696.83" cy="378.85" r="4.8"/>
<circle cx="695.74" cy="379.24" r="4.8"/>
<circle cx="694.7" cy="379.62" r="4.8"/>
<circle cx="693.64" cy="380" r="4.8"/>
<circle cx="692.56" cy="380.34" r="4.8"/>
<circle cx="691.47" cy="380.5" r="4.8"/>
<circle cx="690.37" cy="380.66" r="4.8"/>
<circle cx="689.27" cy="380.82" r="4.8"/>
<circle cx="688.18" cy="380.98" r="4.8"/>
<circle cx="687.08" cy="381.14" r="4.8"/>
<circle cx="685.96" cy="381.31" r="4.8"/>
<circle cx="684.84" cy="381.48" r="4.8"/>
<circle cx="683.75" cy="381.63" r="4.8"/>
<circle cx="682.63" cy="381.76" r="4.8"/>
<circle cx="681.51" cy="381.9" r="4.8"/>
<circle cx="680.41" cy="382.03" r="4.8"/>
<circle cx="679.32" cy="382.16" r="4.8"/>
<circle cx="678.22" cy="382.29" r="4.8"/>
<circle cx="676.5" cy="382.5" r="4.8"/>
</g>
<line x1="677.3" y1="384.4" x2="721.8" y2="277" stroke="#ff0000" stroke-width="2.2" />
<line x1="783.7" y1="384.4" x2="1002" y2="122.8" stroke="#ff0000" stroke-width="2.2" />
<line x1="672" y1="356" x2="652" y2="356" stroke="#000" stroke-width="2" />
<polygon points="643.6,356 654.6,352.6 654.6,359.4" fill="#000"/>
<line x1="1061.7" y1="46.6" x2="1096" y2="46.6" stroke="#000" stroke-width="2" />
<polygon points="1106,46.6 1094.6,43.2 1094.6,50" fill="#000"/>
<line x1="685.3" y1="150" x2="680.9" y2="326" stroke="#000" stroke-width="2" stroke-dasharray="9 5"/>
<polygon points="680.6,336.5 677.6,325.6 684.2,325.8" fill="#000"/>
<line x1="951" y1="321" x2="807" y2="375.6" stroke="#000" stroke-width="2" stroke-dasharray="9 5"/>
<polygon points="797.3,379.4 806.3,372.3 808.7,378.6" fill="#000"/>
<text x="652" y="134" font-family='"Liberation Sans", Arial, Helvetica, sans-serif' font-size="19.4" font-weight="bold" fill="#c80000" stroke="#c80000" stroke-width="0.35" stroke-linejoin="round">E<tspan font-size="13.5" dy="5">gi</tspan><tspan dy="-5">= 0.53 eV</tspan></text>
<text x="953.5" y="319" font-family='"Liberation Sans", Arial, Helvetica, sans-serif' font-size="19.4" font-weight="bold" fill="#c80000" stroke="#c80000" stroke-width="0.35" stroke-linejoin="round">E<tspan font-size="13.5" dy="5">gd</tspan><tspan dy="-5">= 2.13 eV</tspan></text>
<line x1="640.9" y1="10" x2="1109.2" y2="10" stroke="#000" stroke-width="3.2" />
<line x1="640.9" y1="384.4" x2="1109.2" y2="384.4" stroke="#000" stroke-width="3.2" />
<line x1="642.5" y1="384.4" x2="642.5" y2="391.8" stroke="#000" stroke-width="3.2" />
<text x="642.5" y="412.3" font-family='"Liberation Sans", Arial, Helvetica, sans-serif' font-size="18" font-weight="bold" fill="#000" text-anchor="middle"  stroke="#000" stroke-width="0.32" stroke-linejoin="round">0</text>
<line x1="708.94" y1="384.4" x2="708.94" y2="391.8" stroke="#000" stroke-width="3.2" />
<text x="708.94" y="412.3" font-family='"Liberation Sans", Arial, Helvetica, sans-serif' font-size="18" font-weight="bold" fill="#000" text-anchor="middle"  stroke="#000" stroke-width="0.32" stroke-linejoin="round">1</text>
<line x1="708.94" y1="10" x2="708.94" y2="17.4" stroke="#000" stroke-width="3.2" />
<line x1="775.39" y1="384.4" x2="775.39" y2="391.8" stroke="#000" stroke-width="3.2" />
<text x="775.39" y="412.3" font-family='"Liberation Sans", Arial, Helvetica, sans-serif' font-size="18" font-weight="bold" fill="#000" text-anchor="middle"  stroke="#000" stroke-width="0.32" stroke-linejoin="round">2</text>
<line x1="775.39" y1="10" x2="775.39" y2="17.4" stroke="#000" stroke-width="3.2" />
<line x1="841.83" y1="384.4" x2="841.83" y2="391.8" stroke="#000" stroke-width="3.2" />
<text x="841.83" y="412.3" font-family='"Liberation Sans", Arial, Helvetica, sans-serif' font-size="18" font-weight="bold" fill="#000" text-anchor="middle"  stroke="#000" stroke-width="0.32" stroke-linejoin="round">3</text>
<line x1="841.83" y1="10" x2="841.83" y2="17.4" stroke="#000" stroke-width="3.2" />
<line x1="908.27" y1="384.4" x2="908.27" y2="391.8" stroke="#000" stroke-width="3.2" />
<text x="908.27" y="412.3" font-family='"Liberation Sans", Arial, Helvetica, sans-serif' font-size="18" font-weight="bold" fill="#000" text-anchor="middle"  stroke="#000" stroke-width="0.32" stroke-linejoin="round">4</text>
<line x1="908.27" y1="10" x2="908.27" y2="17.4" stroke="#000" stroke-width="3.2" />
<line x1="974.71" y1="384.4" x2="974.71" y2="391.8" stroke="#000" stroke-width="3.2" />
<text x="974.71" y="412.3" font-family='"Liberation Sans", Arial, Helvetica, sans-serif' font-size="18" font-weight="bold" fill="#000" text-anchor="middle"  stroke="#000" stroke-width="0.32" stroke-linejoin="round">5</text>
<line x1="974.71" y1="10" x2="974.71" y2="17.4" stroke="#000" stroke-width="3.2" />
<line x1="1041.16" y1="384.4" x2="1041.16" y2="391.8" stroke="#000" stroke-width="3.2" />
<text x="1041.16" y="412.3" font-family='"Liberation Sans", Arial, Helvetica, sans-serif' font-size="18" font-weight="bold" fill="#000" text-anchor="middle"  stroke="#000" stroke-width="0.32" stroke-linejoin="round">6</text>
<line x1="1041.16" y1="10" x2="1041.16" y2="17.4" stroke="#000" stroke-width="3.2" />
<line x1="1107.6" y1="384.4" x2="1107.6" y2="391.8" stroke="#000" stroke-width="3.2" />
<text x="1107.6" y="412.3" font-family='"Liberation Sans", Arial, Helvetica, sans-serif' font-size="18" font-weight="bold" fill="#000" text-anchor="middle"  stroke="#000" stroke-width="0.32" stroke-linejoin="round">7</text>
<line x1="675.72" y1="384.4" x2="675.72" y2="388.4" stroke="#000" stroke-width="3.2" />
<line x1="675.72" y1="10" x2="675.72" y2="14" stroke="#000" stroke-width="3.2" />
<line x1="742.16" y1="384.4" x2="742.16" y2="388.4" stroke="#000" stroke-width="3.2" />
<line x1="742.16" y1="10" x2="742.16" y2="14" stroke="#000" stroke-width="3.2" />
<line x1="808.61" y1="384.4" x2="808.61" y2="388.4" stroke="#000" stroke-width="3.2" />
<line x1="808.61" y1="10" x2="808.61" y2="14" stroke="#000" stroke-width="3.2" />
<line x1="875.05" y1="384.4" x2="875.05" y2="388.4" stroke="#000" stroke-width="3.2" />
<line x1="875.05" y1="10" x2="875.05" y2="14" stroke="#000" stroke-width="3.2" />
<line x1="941.49" y1="384.4" x2="941.49" y2="388.4" stroke="#000" stroke-width="3.2" />
<line x1="941.49" y1="10" x2="941.49" y2="14" stroke="#000" stroke-width="3.2" />
<line x1="1007.94" y1="384.4" x2="1007.94" y2="388.4" stroke="#000" stroke-width="3.2" />
<line x1="1007.94" y1="10" x2="1007.94" y2="14" stroke="#000" stroke-width="3.2" />
<line x1="1074.38" y1="384.4" x2="1074.38" y2="388.4" stroke="#000" stroke-width="3.2" />
<line x1="1074.38" y1="10" x2="1074.38" y2="14" stroke="#000" stroke-width="3.2" />
<line x1="642.5" y1="8.4" x2="642.5" y2="386" stroke="#7f00ff" stroke-width="3.2" />
<line x1="635.3" y1="384.4" x2="642.5" y2="384.4" stroke="#7f00ff" stroke-width="3.2" />
<text x="629.7" y="390.3" font-family='"Liberation Sans", Arial, Helvetica, sans-serif' font-size="18" font-weight="bold" fill="#7f00ff" text-anchor="end"  stroke="#7f00ff" stroke-width="0.32" stroke-linejoin="round">5</text>
<line x1="635.3" y1="309.52" x2="642.5" y2="309.52" stroke="#7f00ff" stroke-width="3.2" />
<text x="629.7" y="315.42" font-family='"Liberation Sans", Arial, Helvetica, sans-serif' font-size="18" font-weight="bold" fill="#7f00ff" text-anchor="end"  stroke="#7f00ff" stroke-width="0.32" stroke-linejoin="round">10</text>
<line x1="635.3" y1="234.64" x2="642.5" y2="234.64" stroke="#7f00ff" stroke-width="3.2" />
<text x="629.7" y="240.54" font-family='"Liberation Sans", Arial, Helvetica, sans-serif' font-size="18" font-weight="bold" fill="#7f00ff" text-anchor="end"  stroke="#7f00ff" stroke-width="0.32" stroke-linejoin="round">15</text>
<line x1="635.3" y1="159.76" x2="642.5" y2="159.76" stroke="#7f00ff" stroke-width="3.2" />
<text x="629.7" y="165.66" font-family='"Liberation Sans", Arial, Helvetica, sans-serif' font-size="18" font-weight="bold" fill="#7f00ff" text-anchor="end"  stroke="#7f00ff" stroke-width="0.32" stroke-linejoin="round">20</text>
<line x1="635.3" y1="84.88" x2="642.5" y2="84.88" stroke="#7f00ff" stroke-width="3.2" />
<text x="629.7" y="90.78" font-family='"Liberation Sans", Arial, Helvetica, sans-serif' font-size="18" font-weight="bold" fill="#7f00ff" text-anchor="end"  stroke="#7f00ff" stroke-width="0.32" stroke-linejoin="round">25</text>
<line x1="635.3" y1="10" x2="642.5" y2="10" stroke="#7f00ff" stroke-width="3.2" />
<text x="629.7" y="15.9" font-family='"Liberation Sans", Arial, Helvetica, sans-serif' font-size="18" font-weight="bold" fill="#7f00ff" text-anchor="end"  stroke="#7f00ff" stroke-width="0.32" stroke-linejoin="round">30</text>
<line x1="638.9" y1="346.96" x2="642.5" y2="346.96" stroke="#7f00ff" stroke-width="3.2" />
<line x1="638.9" y1="272.08" x2="642.5" y2="272.08" stroke="#7f00ff" stroke-width="3.2" />
<line x1="638.9" y1="197.2" x2="642.5" y2="197.2" stroke="#7f00ff" stroke-width="3.2" />
<line x1="638.9" y1="122.32" x2="642.5" y2="122.32" stroke="#7f00ff" stroke-width="3.2" />
<line x1="638.9" y1="47.44" x2="642.5" y2="47.44" stroke="#7f00ff" stroke-width="3.2" />
<line x1="1107.6" y1="8.4" x2="1107.6" y2="386" stroke="#2746fa" stroke-width="3.2" />
<line x1="1107.6" y1="384.4" x2="1114.8" y2="384.4" stroke="#2746fa" stroke-width="3.2" />
<text x="1120.4" y="390.8" font-family='"Liberation Sans", Arial, Helvetica, sans-serif' font-size="18.5" font-weight="bold" fill="#2746fa" text-anchor="start"  stroke="#2746fa" stroke-width="0.33" stroke-linejoin="round">0</text>
<line x1="1107.6" y1="309.52" x2="1114.8" y2="309.52" stroke="#2746fa" stroke-width="3.2" />
<text x="1120.4" y="315.92" font-family='"Liberation Sans", Arial, Helvetica, sans-serif' font-size="18.5" font-weight="bold" fill="#2746fa" stroke="#2746fa" stroke-width="0.33" stroke-linejoin="round">1x10<tspan font-size="12.5" dy="-7.5">5</tspan></text>
<line x1="1107.6" y1="234.64" x2="1114.8" y2="234.64" stroke="#2746fa" stroke-width="3.2" />
<text x="1120.4" y="241.04" font-family='"Liberation Sans", Arial, Helvetica, sans-serif' font-size="18.5" font-weight="bold" fill="#2746fa" stroke="#2746fa" stroke-width="0.33" stroke-linejoin="round">2x10<tspan font-size="12.5" dy="-7.5">5</tspan></text>
<line x1="1107.6" y1="159.76" x2="1114.8" y2="159.76" stroke="#2746fa" stroke-width="3.2" />
<text x="1120.4" y="166.16" font-family='"Liberation Sans", Arial, Helvetica, sans-serif' font-size="18.5" font-weight="bold" fill="#2746fa" stroke="#2746fa" stroke-width="0.33" stroke-linejoin="round">3x10<tspan font-size="12.5" dy="-7.5">5</tspan></text>
<line x1="1107.6" y1="84.88" x2="1114.8" y2="84.88" stroke="#2746fa" stroke-width="3.2" />
<text x="1120.4" y="91.28" font-family='"Liberation Sans", Arial, Helvetica, sans-serif' font-size="18.5" font-weight="bold" fill="#2746fa" stroke="#2746fa" stroke-width="0.33" stroke-linejoin="round">4x10<tspan font-size="12.5" dy="-7.5">5</tspan></text>
<line x1="1107.6" y1="10" x2="1114.8" y2="10" stroke="#2746fa" stroke-width="3.2" />
<text x="1120.4" y="16.4" font-family='"Liberation Sans", Arial, Helvetica, sans-serif' font-size="18.5" font-weight="bold" fill="#2746fa" stroke="#2746fa" stroke-width="0.33" stroke-linejoin="round">5x10<tspan font-size="12.5" dy="-7.5">5</tspan></text>
<line x1="1107.6" y1="346.96" x2="1111.2" y2="346.96" stroke="#2746fa" stroke-width="3.2" />
<line x1="1107.6" y1="272.08" x2="1111.2" y2="272.08" stroke="#2746fa" stroke-width="3.2" />
<line x1="1107.6" y1="197.2" x2="1111.2" y2="197.2" stroke="#2746fa" stroke-width="3.2" />
<line x1="1107.6" y1="122.32" x2="1111.2" y2="122.32" stroke="#2746fa" stroke-width="3.2" />
<line x1="1107.6" y1="47.44" x2="1111.2" y2="47.44" stroke="#2746fa" stroke-width="3.2" />
<text x="651.2" y="41" font-family='"Liberation Sans", Arial, Helvetica, sans-serif' font-size="23.8" font-weight="bold" fill="#000" text-anchor="start"  stroke="#000" stroke-width="0.43" stroke-linejoin="round">(b)</text>
<text x="830.2" y="443" font-family='"Liberation Sans", Arial, Helvetica, sans-serif' font-size="25" font-weight="bold" fill="#000" stroke="#000" stroke-width="0.45" stroke-linejoin="round">h<tspan font-family='"Liberation Serif", "DejaVu Serif", serif' font-weight="normal" font-size="27.5">υ</tspan> (eV)</text>
<text transform="translate(594.8,293) rotate(-90)" font-family='"Liberation Sans", Arial, Helvetica, sans-serif' font-size="22" font-weight="bold" fill="#7f00ff" stroke="#7f00ff" stroke-width="0.4" stroke-linejoin="round">(<tspan font-family='"Liberation Serif", "DejaVu Serif", serif' font-weight="bold" font-size="23.5">α</tspan>h<tspan font-family='"Liberation Serif", "DejaVu Serif", serif' font-weight="bold" font-size="23.5">υ</tspan>)<tspan font-size="14" dy="-8.5">1/2</tspan><tspan dy="8.5"> (cm</tspan><tspan font-size="14" dy="-8.5">-1</tspan><tspan dy="8.5">.eV)</tspan><tspan font-size="14" dy="-8.5">1/2</tspan></text>
<text transform="translate(1195.8,268) rotate(-90)" font-family='"Liberation Sans", Arial, Helvetica, sans-serif' font-size="22" font-weight="bold" fill="#2746fa" stroke="#2746fa" stroke-width="0.4" stroke-linejoin="round">(<tspan font-family='"Liberation Serif", "DejaVu Serif", serif' font-weight="bold" font-size="23.5">α</tspan>h<tspan font-family='"Liberation Serif", "DejaVu Serif", serif' font-weight="bold" font-size="23.5">υ</tspan>)<tspan font-size="14" dy="-8.5">2</tspan><tspan dy="8.5"> (cm</tspan><tspan font-size="14" dy="-8.5">-1</tspan><tspan dy="8.5">.eV)</tspan><tspan font-size="14" dy="-8.5">2</tspan></text>
</g>
<g id="panel-c">
<defs><radialGradient id="gball" cx="0.5" cy="0.5" r="0.5" fx="0.36" fy="0.30"><stop offset="0" stop-color="#ffffff"/><stop offset="0.1" stop-color="#f0fbf0"/><stop offset="0.28" stop-color="#6cc56c"/><stop offset="0.6" stop-color="#0d9a0d"/><stop offset="1" stop-color="#009200"/></radialGradient></defs>
<polyline points="665.9,771.8 678.5,765.8 691.2,758.4 697.5,754.1 703.8,748.7 710.1,741.7 716.5,734.8 722.8,728.1 729.1,721.5 735.4,714.9 740,710 748,700 756,690 763,680 768.6,670 774,660 779,650 784,640 789,630 794,620 799,610 803.4,600 807.6,590 811.4,580 815,570 819,560 823,551.6" fill="none" stroke="#039503" stroke-width="10.6" stroke-linejoin="round" stroke-linecap="round"/>
<line x1="464.23" y1="799.66" x2="489.21" y2="798.92" stroke="#3fae3f" stroke-width="0.9" />
<line x1="504.4" y1="798.39" x2="512.87" y2="798.07" stroke="#3fae3f" stroke-width="0.9" />
<line x1="528.05" y1="797.33" x2="529.74" y2="797.23" stroke="#3fae3f" stroke-width="0.9" />
<g fill="url(#gball)">
<circle cx="456.64" cy="799.89" r="5.4"/>
<circle cx="496.81" cy="798.69" r="5.4"/>
<circle cx="520.46" cy="797.77" r="5.4"/>
<circle cx="537.32" cy="796.78" r="5.4"/>
<circle cx="550.46" cy="795.9" r="5.4"/>
<circle cx="561.23" cy="794.97" r="5.4"/>
<circle cx="570.37" cy="794.22" r="5.4"/>
<circle cx="578.32" cy="793.24" r="5.4"/>
<circle cx="585.36" cy="792.55" r="5.4"/>
<circle cx="591.68" cy="791.75" r="5.4"/>
<circle cx="597.42" cy="790.57" r="5.4"/>
<circle cx="602.67" cy="789.48" r="5.4"/>
<circle cx="607.53" cy="788.38" r="5.4"/>
<circle cx="612.04" cy="787.35" r="5.4"/>
<circle cx="616.25" cy="786.37" r="5.4"/>
<circle cx="620.21" cy="785.39" r="5.4"/>
<circle cx="623.94" cy="784.48" r="5.4"/>
<circle cx="627.47" cy="783.61" r="5.4"/>
<circle cx="630.82" cy="782.63" r="5.4"/>
<circle cx="634.01" cy="781.67" r="5.4"/>
<circle cx="637.06" cy="780.76" r="5.4"/>
<circle cx="639.97" cy="779.89" r="5.4"/>
<circle cx="642.77" cy="779.05" r="5.4"/>
<circle cx="645.46" cy="778.24" r="5.4"/>
<circle cx="648.04" cy="777.45" r="5.4"/>
<circle cx="650.54" cy="776.7" r="5.4"/>
<circle cx="652.95" cy="775.98" r="5.4"/>
<circle cx="655.28" cy="775.23" r="5.4"/>
<circle cx="657.54" cy="774.5" r="5.4"/>
<circle cx="659.73" cy="773.79" r="5.4"/>
<circle cx="661.86" cy="773.11" r="5.4"/>
<circle cx="663.92" cy="772.44" r="5.4"/>
<circle cx="665.93" cy="771.78" r="5.4"/>
<circle cx="667.89" cy="770.85" r="5.4"/>
<circle cx="669.8" cy="769.94" r="5.4"/>
<circle cx="671.67" cy="769.05" r="5.4"/>
<circle cx="673.48" cy="768.19" r="5.4"/>
<circle cx="675.26" cy="767.34" r="5.4"/>
<circle cx="677" cy="766.51" r="5.4"/>
<circle cx="678.7" cy="765.68" r="5.4"/>
<circle cx="680.37" cy="764.71" r="5.4"/>
<circle cx="682" cy="763.76" r="5.4"/>
<circle cx="683.6" cy="762.83" r="5.4"/>
<circle cx="685.17" cy="761.92" r="5.4"/>
<circle cx="686.71" cy="761.02" r="5.4"/>
<circle cx="688.22" cy="760.14" r="5.4"/>
<circle cx="689.71" cy="759.27" r="5.4"/>
<circle cx="691.17" cy="758.42" r="5.4"/>
<circle cx="692.6" cy="757.44" r="5.4"/>
<circle cx="694.02" cy="756.48" r="5.4"/>
<circle cx="695.41" cy="755.53" r="5.4"/>
<circle cx="696.78" cy="754.59" r="5.4"/>
<circle cx="698.13" cy="753.56" r="5.4"/>
<circle cx="699.46" cy="752.42" r="5.4"/>
<circle cx="700.77" cy="751.3" r="5.4"/>
<circle cx="702.06" cy="750.19" r="5.4"/>
<circle cx="703.34" cy="749.1" r="5.4"/>
<circle cx="704.6" cy="747.82" r="5.4"/>
<circle cx="705.84" cy="746.44" r="5.4"/>
<circle cx="707.06" cy="745.07" r="5.4"/>
<circle cx="708.28" cy="743.73" r="5.4"/>
<circle cx="709.47" cy="742.4" r="5.4"/>
<circle cx="710.66" cy="741.1" r="5.4"/>
<circle cx="711.83" cy="739.84" r="5.4"/>
<circle cx="712.98" cy="738.59" r="5.4"/>
<circle cx="714.13" cy="737.36" r="5.4"/>
<circle cx="715.26" cy="736.14" r="5.4"/>
<circle cx="716.38" cy="734.93" r="5.4"/>
<circle cx="717.49" cy="733.75" r="5.4"/>
<circle cx="718.58" cy="732.58" r="5.4"/>
<circle cx="719.67" cy="731.43" r="5.4"/>
<circle cx="720.75" cy="730.28" r="5.4"/>
<circle cx="721.81" cy="729.15" r="5.4"/>
<circle cx="722.87" cy="728.02" r="5.4"/>
<circle cx="723.92" cy="726.93" r="5.4"/>
<circle cx="724.96" cy="725.84" r="5.4"/>
<circle cx="725.99" cy="724.76" r="5.4"/>
<circle cx="727.01" cy="723.69" r="5.4"/>
<circle cx="728.02" cy="722.63" r="5.4"/>
<circle cx="729.03" cy="721.58" r="5.4"/>
<circle cx="730.02" cy="720.53" r="5.4"/>
<circle cx="731.01" cy="719.5" r="5.4"/>
<circle cx="732" cy="718.47" r="5.4"/>
<circle cx="732.97" cy="717.44" r="5.4"/>
<circle cx="733.94" cy="716.43" r="5.4"/>
<circle cx="734.9" cy="715.42" r="5.4"/>
<circle cx="735.86" cy="714.41" r="5.4"/>
<circle cx="736.81" cy="713.4" r="5.4"/>
<circle cx="737.75" cy="712.4" r="5.4"/>
<circle cx="738.68" cy="711.4" r="5.4"/>
<circle cx="739.62" cy="710.41" r="5.4"/>
<circle cx="740.54" cy="709.32" r="5.4"/>
<circle cx="741.46" cy="708.17" r="5.4"/>
<circle cx="742.38" cy="707.03" r="5.4"/>
<circle cx="743.29" cy="705.89" r="5.4"/>
<circle cx="744.19" cy="704.76" r="5.4"/>
<circle cx="745.09" cy="703.63" r="5.4"/>
<circle cx="745.99" cy="702.52" r="5.4"/>
<circle cx="746.88" cy="701.4" r="5.4"/>
<circle cx="747.77" cy="700.29" r="5.4"/>
<circle cx="748.65" cy="699.19" r="5.4"/>
<circle cx="749.53" cy="698.09" r="5.4"/>
<circle cx="750.4" cy="697" r="5.4"/>
<circle cx="751.27" cy="695.91" r="5.4"/>
<circle cx="752.14" cy="694.83" r="5.4"/>
<circle cx="753" cy="693.75" r="5.4"/>
<circle cx="753.86" cy="692.67" r="5.4"/>
<circle cx="754.72" cy="691.6" r="5.4"/>
<circle cx="755.57" cy="690.53" r="5.4"/>
<circle cx="756.42" cy="689.4" r="5.4"/>
<circle cx="757.27" cy="688.19" r="5.4"/>
<circle cx="758.11" cy="686.98" r="5.4"/>
<circle cx="758.95" cy="685.78" r="5.4"/>
<circle cx="759.79" cy="684.58" r="5.4"/>
<circle cx="760.63" cy="683.39" r="5.4"/>
<circle cx="761.46" cy="682.2" r="5.4"/>
<circle cx="762.29" cy="681.01" r="5.4"/>
<circle cx="763.12" cy="679.78" r="5.4"/>
<circle cx="763.95" cy="678.3" r="5.4"/>
<circle cx="764.77" cy="676.83" r="5.4"/>
<circle cx="765.6" cy="675.36" r="5.4"/>
<circle cx="766.42" cy="673.9" r="5.4"/>
<circle cx="767.24" cy="672.44" r="5.4"/>
<circle cx="768.05" cy="670.98" r="5.4"/>
<circle cx="768.87" cy="669.5" r="5.4"/>
<circle cx="769.68" cy="668" r="5.4"/>
<circle cx="770.49" cy="666.49" r="5.4"/>
<circle cx="771.3" cy="664.99" r="5.4"/>
<circle cx="772.11" cy="663.5" r="5.4"/>
<circle cx="772.92" cy="662" r="5.4"/>
<circle cx="773.73" cy="660.51" r="5.4"/>
<circle cx="774.53" cy="658.93" r="5.4"/>
<circle cx="775.34" cy="657.33" r="5.4"/>
<circle cx="776.14" cy="655.72" r="5.4"/>
<circle cx="776.94" cy="654.11" r="5.4"/>
<circle cx="777.75" cy="652.51" r="5.4"/>
<circle cx="778.55" cy="650.91" r="5.4"/>
<circle cx="779.35" cy="649.31" r="5.4"/>
<circle cx="780.15" cy="647.71" r="5.4"/>
<circle cx="780.95" cy="646.11" r="5.4"/>
<circle cx="781.75" cy="644.51" r="5.4"/>
<circle cx="782.54" cy="642.91" r="5.4"/>
<circle cx="783.34" cy="641.32" r="5.4"/>
<circle cx="784.14" cy="639.72" r="5.4"/>
<circle cx="784.94" cy="638.12" r="5.4"/>
<circle cx="785.74" cy="636.53" r="5.4"/>
<circle cx="786.53" cy="634.93" r="5.4"/>
<circle cx="787.33" cy="633.33" r="5.4"/>
<circle cx="788.13" cy="631.74" r="5.4"/>
<circle cx="788.93" cy="630.14" r="5.4"/>
<circle cx="789.73" cy="628.54" r="5.4"/>
<circle cx="790.53" cy="626.94" r="5.4"/>
<circle cx="791.33" cy="625.34" r="5.4"/>
<circle cx="792.13" cy="623.74" r="5.4"/>
<circle cx="792.93" cy="622.14" r="5.4"/>
<circle cx="793.73" cy="620.54" r="5.4"/>
<circle cx="794.53" cy="618.93" r="5.4"/>
<circle cx="795.34" cy="617.32" r="5.4"/>
<circle cx="796.14" cy="615.72" r="5.4"/>
<circle cx="796.95" cy="614.1" r="5.4"/>
<circle cx="797.75" cy="612.49" r="5.4"/>
<circle cx="798.56" cy="610.88" r="5.4"/>
<circle cx="799.37" cy="609.16" r="5.4"/>
<circle cx="800.18" cy="607.31" r="5.4"/>
<circle cx="800.99" cy="605.47" r="5.4"/>
<circle cx="801.81" cy="603.62" r="5.4"/>
<circle cx="802.62" cy="601.77" r="5.4"/>
<circle cx="803.44" cy="599.91" r="5.4"/>
<circle cx="804.26" cy="597.96" r="5.4"/>
<circle cx="805.08" cy="596.01" r="5.4"/>
<circle cx="805.9" cy="594.05" r="5.4"/>
<circle cx="806.72" cy="592.09" r="5.4"/>
<circle cx="807.55" cy="590.12" r="5.4"/>
<circle cx="808.38" cy="587.95" r="5.4"/>
<circle cx="809.21" cy="585.76" r="5.4"/>
<circle cx="810.04" cy="583.57" r="5.4"/>
<circle cx="810.88" cy="581.37" r="5.4"/>
<circle cx="811.72" cy="579.12" r="5.4"/>
<circle cx="812.56" cy="576.78" r="5.4"/>
<circle cx="813.4" cy="574.44" r="5.4"/>
<circle cx="814.25" cy="572.08" r="5.4"/>
<circle cx="815.1" cy="569.75" r="5.4"/>
<circle cx="815.95" cy="567.62" r="5.4"/>
<circle cx="816.81" cy="565.48" r="5.4"/>
<circle cx="817.67" cy="563.33" r="5.4"/>
<circle cx="818.53" cy="561.17" r="5.4"/>
<circle cx="819.4" cy="559.16" r="5.4"/>
<circle cx="820.27" cy="557.33" r="5.4"/>
<circle cx="821.14" cy="555.5" r="5.4"/>
<circle cx="822.02" cy="553.65" r="5.4"/>
<circle cx="822.9" cy="551.8" r="5.4"/>
</g>
<line x1="762" y1="682.6" x2="811.4" y2="584.8" stroke="#ff0000" stroke-width="3" stroke-linecap="round"/>
<rect x="564.3" y="485.2" width="277.6" height="55.2" fill="#fff" stroke="#333" stroke-width="1"/>
<line x1="566" y1="498" x2="581" y2="498" stroke="#7fcc7f" stroke-width="1" />
<line x1="595" y1="498" x2="610.5" y2="498" stroke="#7fcc7f" stroke-width="1" />
<circle cx="588.0" cy="498.0" r="5.3" fill="url(#gball)"/>
<line x1="566" y1="527" x2="610.5" y2="527" stroke="#ff0000" stroke-width="3" />
<text x="616.5" y="505" font-family='"Liberation Sans", Arial, Helvetica, sans-serif' font-size="19.5" font-weight="bold" fill="#000" stroke="#000" stroke-width="0.35" stroke-linejoin="round">Curve with E<tspan font-size="13.3" dy="5.5">gd</tspan><tspan dy="-5.5"> = 2.13 eV</tspan></text>
<text x="616.5" y="533.8" font-family='"Liberation Sans", Arial, Helvetica, sans-serif' font-size="19.5" font-weight="bold" fill="#000" text-anchor="start"  stroke="#000" stroke-width="0.35" stroke-linejoin="round">Linear Fit</text>
<text x="646.7" y="622" font-family='"Liberation Sans", Arial, Helvetica, sans-serif' font-size="24.7" font-weight="bold" fill="#000" text-anchor="start"  stroke="#000" stroke-width="0.44" stroke-linejoin="round">n = 0.468</text>
<rect x="393" y="480.8" width="464.6" height="373.9" fill="none" stroke="#000" stroke-width="3.7"/>
<line x1="393" y1="854.7" x2="393" y2="862.1" stroke="#000" stroke-width="3.7" />
<text x="393.5" y="884.2" font-family='"Liberation Sans", Arial, Helvetica, sans-serif' font-size="20.4" font-weight="bold" fill="#000" text-anchor="middle"  stroke="#000" stroke-width="0.37" stroke-linejoin="round">-6</text>
<line x1="451.07" y1="854.7" x2="451.07" y2="862.1" stroke="#000" stroke-width="3.7" />
<text x="451.57" y="884.2" font-family='"Liberation Sans", Arial, Helvetica, sans-serif' font-size="20.4" font-weight="bold" fill="#000" text-anchor="middle"  stroke="#000" stroke-width="0.37" stroke-linejoin="round">-5</text>
<line x1="509.15" y1="854.7" x2="509.15" y2="862.1" stroke="#000" stroke-width="3.7" />
<text x="509.65" y="884.2" font-family='"Liberation Sans", Arial, Helvetica, sans-serif' font-size="20.4" font-weight="bold" fill="#000" text-anchor="middle"  stroke="#000" stroke-width="0.37" stroke-linejoin="round">-4</text>
<line x1="567.23" y1="854.7" x2="567.23" y2="862.1" stroke="#000" stroke-width="3.7" />
<text x="567.73" y="884.2" font-family='"Liberation Sans", Arial, Helvetica, sans-serif' font-size="20.4" font-weight="bold" fill="#000" text-anchor="middle"  stroke="#000" stroke-width="0.37" stroke-linejoin="round">-3</text>
<line x1="625.3" y1="854.7" x2="625.3" y2="862.1" stroke="#000" stroke-width="3.7" />
<text x="625.8" y="884.2" font-family='"Liberation Sans", Arial, Helvetica, sans-serif' font-size="20.4" font-weight="bold" fill="#000" text-anchor="middle"  stroke="#000" stroke-width="0.37" stroke-linejoin="round">-2</text>
<line x1="683.38" y1="854.7" x2="683.38" y2="862.1" stroke="#000" stroke-width="3.7" />
<text x="683.88" y="884.2" font-family='"Liberation Sans", Arial, Helvetica, sans-serif' font-size="20.4" font-weight="bold" fill="#000" text-anchor="middle"  stroke="#000" stroke-width="0.37" stroke-linejoin="round">-1</text>
<line x1="741.45" y1="854.7" x2="741.45" y2="862.1" stroke="#000" stroke-width="3.7" />
<text x="741.95" y="884.2" font-family='"Liberation Sans", Arial, Helvetica, sans-serif' font-size="20.4" font-weight="bold" fill="#000" text-anchor="middle"  stroke="#000" stroke-width="0.37" stroke-linejoin="round">0</text>
<line x1="799.53" y1="854.7" x2="799.53" y2="862.1" stroke="#000" stroke-width="3.7" />
<text x="800.03" y="884.2" font-family='"Liberation Sans", Arial, Helvetica, sans-serif' font-size="20.4" font-weight="bold" fill="#000" text-anchor="middle"  stroke="#000" stroke-width="0.37" stroke-linejoin="round">1</text>
<line x1="857.6" y1="854.7" x2="857.6" y2="862.1" stroke="#000" stroke-width="3.7" />
<text x="858.1" y="884.2" font-family='"Liberation Sans", Arial, Helvetica, sans-serif' font-size="20.4" font-weight="bold" fill="#000" text-anchor="middle"  stroke="#000" stroke-width="0.37" stroke-linejoin="round">2</text>
<line x1="422.04" y1="854.7" x2="422.04" y2="858.7" stroke="#000" stroke-width="3.7" />
<line x1="480.11" y1="854.7" x2="480.11" y2="858.7" stroke="#000" stroke-width="3.7" />
<line x1="538.19" y1="854.7" x2="538.19" y2="858.7" stroke="#000" stroke-width="3.7" />
<line x1="596.26" y1="854.7" x2="596.26" y2="858.7" stroke="#000" stroke-width="3.7" />
<line x1="654.34" y1="854.7" x2="654.34" y2="858.7" stroke="#000" stroke-width="3.7" />
<line x1="712.41" y1="854.7" x2="712.41" y2="858.7" stroke="#000" stroke-width="3.7" />
<line x1="770.49" y1="854.7" x2="770.49" y2="858.7" stroke="#000" stroke-width="3.7" />
<line x1="828.56" y1="854.7" x2="828.56" y2="858.7" stroke="#000" stroke-width="3.7" />
<line x1="385.6" y1="829.78" x2="393" y2="829.78" stroke="#000" stroke-width="3.7" />
<text x="380.4" y="836.68" font-family='"Liberation Sans", Arial, Helvetica, sans-serif' font-size="21" font-weight="bold" fill="#000" text-anchor="end"  stroke="#000" stroke-width="0.38" stroke-linejoin="round">5.4</text>
<line x1="385.6" y1="779.92" x2="393" y2="779.92" stroke="#000" stroke-width="3.7" />
<text x="380.4" y="786.82" font-family='"Liberation Sans", Arial, Helvetica, sans-serif' font-size="21" font-weight="bold" fill="#000" text-anchor="end"  stroke="#000" stroke-width="0.38" stroke-linejoin="round">5.6</text>
<line x1="385.6" y1="730.07" x2="393" y2="730.07" stroke="#000" stroke-width="3.7" />
<text x="380.4" y="736.97" font-family='"Liberation Sans", Arial, Helvetica, sans-serif' font-size="21" font-weight="bold" fill="#000" text-anchor="end"  stroke="#000" stroke-width="0.38" stroke-linejoin="round">5.8</text>
<line x1="385.6" y1="680.22" x2="393" y2="680.22" stroke="#000" stroke-width="3.7" />
<text x="380.4" y="687.12" font-family='"Liberation Sans", Arial, Helvetica, sans-serif' font-size="21" font-weight="bold" fill="#000" text-anchor="end"  stroke="#000" stroke-width="0.38" stroke-linejoin="round">6.0</text>
<line x1="385.6" y1="630.36" x2="393" y2="630.36" stroke="#000" stroke-width="3.7" />
<text x="380.4" y="637.26" font-family='"Liberation Sans", Arial, Helvetica, sans-serif' font-size="21" font-weight="bold" fill="#000" text-anchor="end"  stroke="#000" stroke-width="0.38" stroke-linejoin="round">6.2</text>
<line x1="385.6" y1="580.51" x2="393" y2="580.51" stroke="#000" stroke-width="3.7" />
<text x="380.4" y="587.41" font-family='"Liberation Sans", Arial, Helvetica, sans-serif' font-size="21" font-weight="bold" fill="#000" text-anchor="end"  stroke="#000" stroke-width="0.38" stroke-linejoin="round">6.4</text>
<line x1="385.6" y1="530.65" x2="393" y2="530.65" stroke="#000" stroke-width="3.7" />
<text x="380.4" y="537.55" font-family='"Liberation Sans", Arial, Helvetica, sans-serif' font-size="21" font-weight="bold" fill="#000" text-anchor="end"  stroke="#000" stroke-width="0.38" stroke-linejoin="round">6.6</text>
<line x1="385.6" y1="480.8" x2="393" y2="480.8" stroke="#000" stroke-width="3.7" />
<text x="380.4" y="487.7" font-family='"Liberation Sans", Arial, Helvetica, sans-serif' font-size="21" font-weight="bold" fill="#000" text-anchor="end"  stroke="#000" stroke-width="0.38" stroke-linejoin="round">6.8</text>
<line x1="389" y1="804.85" x2="393" y2="804.85" stroke="#000" stroke-width="3.7" />
<line x1="389" y1="755" x2="393" y2="755" stroke="#000" stroke-width="3.7" />
<line x1="389" y1="705.14" x2="393" y2="705.14" stroke="#000" stroke-width="3.7" />
<line x1="389" y1="655.29" x2="393" y2="655.29" stroke="#000" stroke-width="3.7" />
<line x1="389" y1="605.44" x2="393" y2="605.44" stroke="#000" stroke-width="3.7" />
<line x1="389" y1="555.58" x2="393" y2="555.58" stroke="#000" stroke-width="3.7" />
<line x1="389" y1="505.73" x2="393" y2="505.73" stroke="#000" stroke-width="3.7" />
<text x="399" y="508" font-family='"Liberation Sans", Arial, Helvetica, sans-serif' font-size="24.3" font-weight="bold" fill="#000" text-anchor="start"  stroke="#000" stroke-width="0.44" stroke-linejoin="round">(c)</text>
<text x="570.7" y="914.5" font-family='"Liberation Sans", Arial, Helvetica, sans-serif' font-size="25" font-weight="bold" fill="#000" stroke="#000" stroke-width="0.45" stroke-linejoin="round">ln<tspan font-size="32" dy="0.3">(</tspan><tspan dy="-0.3">h</tspan><tspan font-family='"Liberation Serif", "DejaVu Serif", serif' font-weight="bold" font-size="27">υ</tspan>-E<tspan font-size="17" dy="7">g</tspan><tspan font-size="32" dy="-6.7">)</tspan></text>
<text transform="translate(338,688.7) rotate(-90)" font-family='"Liberation Sans", Arial, Helvetica, sans-serif' font-size="25" font-weight="bold" fill="#000" stroke="#000" stroke-width="0.45" stroke-linejoin="round">ln<tspan font-size="32" dy="-1">(</tspan><tspan font-family='"Liberation Serif", "DejaVu Serif", serif' font-weight="bold" font-size="27" dy="1">α</tspan>h<tspan font-family='"Liberation Serif", "DejaVu Serif", serif' font-weight="bold" font-size="27">υ</tspan><tspan font-size="32" dy="-1">)</tspan></text>
</g>
</svg></body></html>
